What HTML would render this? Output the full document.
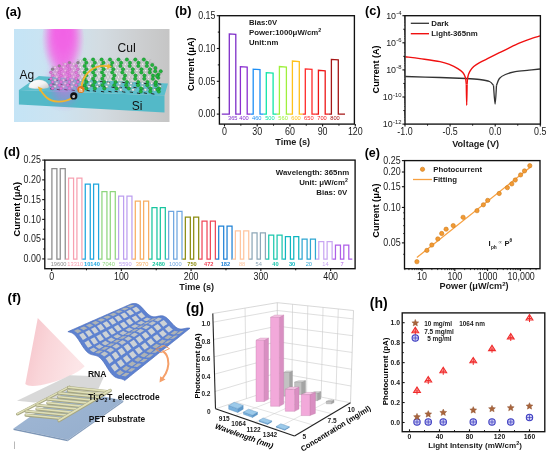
<!DOCTYPE html>
<html><head><meta charset="utf-8"><style>
html,body{margin:0;padding:0;background:#fff;}
body{width:550px;height:454px;overflow:hidden;}
svg{display:block;font-family:"Liberation Sans", sans-serif;filter:blur(0.35px);}
</style></head><body>
<svg width="550" height="454" viewBox="0 0 550 454">
<rect x="0" y="0" width="550" height="454" fill="#fff"/>
<text x="5.50" y="15.66" font-size="12.8" font-weight="bold" text-anchor="start" fill="#000" >(a)</text>
<text x="175.05" y="15.16" font-size="12.8" font-weight="bold" text-anchor="start" fill="#000" >(b)</text>
<text x="365.05" y="15.40" font-size="12.8" font-weight="bold" text-anchor="start" fill="#000" >(c)</text>
<text x="3.65" y="156.36" font-size="12.8" font-weight="bold" text-anchor="start" fill="#000" >(d)</text>
<text x="364.67" y="156.94" font-size="12.5" font-weight="bold" text-anchor="start" fill="#000" >(e)</text>
<text x="7.52" y="302.07" font-size="13.5" font-weight="bold" text-anchor="start" fill="#000" >(f)</text>
<text x="186.10" y="312.93" font-size="14" font-weight="bold" text-anchor="start" fill="#000" >(g)</text>
<text x="369.80" y="308.13" font-size="14" font-weight="bold" text-anchor="start" fill="#000" >(h)</text>
<line x1="216.80" y1="15.70" x2="219.40" y2="15.70" stroke="#111" stroke-width="1.1" />
<text transform="translate(215.50,19.00) scale(1,1.13)" font-size="8.9" font-weight="normal" text-anchor="end" fill="#1a1a1a" >0.15</text>
<line x1="216.80" y1="48.50" x2="219.40" y2="48.50" stroke="#111" stroke-width="1.1" />
<text transform="translate(215.50,51.80) scale(1,1.13)" font-size="8.9" font-weight="normal" text-anchor="end" fill="#1a1a1a" >0.10</text>
<line x1="216.80" y1="81.30" x2="219.40" y2="81.30" stroke="#111" stroke-width="1.1" />
<text transform="translate(215.50,84.60) scale(1,1.13)" font-size="8.9" font-weight="normal" text-anchor="end" fill="#1a1a1a" >0.05</text>
<line x1="216.80" y1="114.10" x2="219.40" y2="114.10" stroke="#111" stroke-width="1.1" />
<text transform="translate(215.50,117.40) scale(1,1.13)" font-size="8.9" font-weight="normal" text-anchor="end" fill="#1a1a1a" >0.00</text>
<line x1="217.80" y1="32.10" x2="219.40" y2="32.10" stroke="#111" stroke-width="1" />
<line x1="217.80" y1="64.90" x2="219.40" y2="64.90" stroke="#111" stroke-width="1" />
<line x1="217.80" y1="97.70" x2="219.40" y2="97.70" stroke="#111" stroke-width="1" />
<line x1="224.50" y1="124.10" x2="224.50" y2="126.50" stroke="#111" stroke-width="1.1" />
<text transform="translate(224.50,135.40) scale(1,1.13)" font-size="8.9" font-weight="normal" text-anchor="middle" fill="#1a1a1a" >0</text>
<line x1="257.20" y1="124.10" x2="257.20" y2="126.50" stroke="#111" stroke-width="1.1" />
<text transform="translate(257.20,135.40) scale(1,1.13)" font-size="8.9" font-weight="normal" text-anchor="middle" fill="#1a1a1a" >30</text>
<line x1="289.90" y1="124.10" x2="289.90" y2="126.50" stroke="#111" stroke-width="1.1" />
<text transform="translate(289.90,135.40) scale(1,1.13)" font-size="8.9" font-weight="normal" text-anchor="middle" fill="#1a1a1a" >60</text>
<line x1="322.60" y1="124.10" x2="322.60" y2="126.50" stroke="#111" stroke-width="1.1" />
<text transform="translate(322.60,135.40) scale(1,1.13)" font-size="8.9" font-weight="normal" text-anchor="middle" fill="#1a1a1a" >90</text>
<line x1="355.30" y1="124.10" x2="355.30" y2="126.50" stroke="#111" stroke-width="1.1" />
<text transform="translate(355.30,135.40) scale(1,1.13)" font-size="8.9" font-weight="normal" text-anchor="middle" fill="#1a1a1a" >120</text>
<line x1="240.85" y1="124.10" x2="240.85" y2="125.70" stroke="#111" stroke-width="1" />
<line x1="273.55" y1="124.10" x2="273.55" y2="125.70" stroke="#111" stroke-width="1" />
<line x1="306.25" y1="124.10" x2="306.25" y2="125.70" stroke="#111" stroke-width="1" />
<line x1="338.95" y1="124.10" x2="338.95" y2="125.70" stroke="#111" stroke-width="1" />
<text x="292.70" y="145.00" font-size="9.1" font-weight="bold" text-anchor="middle" fill="#1a1a1a" >Time (s)</text>
<text x="0.00" y="0.00" font-size="9.1" font-weight="bold" text-anchor="middle" fill="#000" transform="translate(194.1,64.3) rotate(-90)">Current (μA)</text>
<text x="249.00" y="25.30" font-size="7.7" font-weight="bold" text-anchor="start" fill="#1a1a1a" >Bias:0V</text>
<text x="249.00" y="35.40" font-size="7.85" font-weight="bold" text-anchor="start" fill="#1a1a1a" >Power:1000μW/cm<tspan font-size="5.3" dy="-3">2</tspan></text>
<text x="249.00" y="45.20" font-size="7.75" font-weight="bold" text-anchor="start" fill="#1a1a1a" >Unit:nm</text>
<polyline points="221.80,114.20 229.30,114.20 229.30,33.90 235.80,34.40 235.80,114.20 237.80,114.20" fill="none" stroke="#7f2fc8" stroke-width="1.3" />
<text x="232.75" y="120.20" font-size="5.7" font-weight="normal" text-anchor="middle" fill="#7f2fc8" >365</text>
<polyline points="237.80,114.20 240.40,114.20 240.40,66.70 247.20,67.20 247.20,114.20 250.60,114.20" fill="none" stroke="#8a2fd0" stroke-width="1.3" />
<text x="244.00" y="120.20" font-size="5.7" font-weight="normal" text-anchor="middle" fill="#8a2fd0" >400</text>
<polyline points="250.60,114.20 253.20,114.20 253.20,69.20 260.00,69.70 260.00,114.20 263.70,114.20" fill="none" stroke="#1e8ff5" stroke-width="1.3" />
<text x="256.80" y="120.20" font-size="5.7" font-weight="normal" text-anchor="middle" fill="#1e8ff5" >460</text>
<polyline points="263.70,114.20 266.30,114.20 266.30,72.70 273.10,73.20 273.10,114.20 276.80,114.20" fill="none" stroke="#10e6a8" stroke-width="1.3" />
<text x="269.90" y="120.20" font-size="5.7" font-weight="normal" text-anchor="middle" fill="#10e6a8" >500</text>
<polyline points="276.80,114.20 279.40,114.20 279.40,66.50 286.40,67.00 286.40,114.20 289.80,114.20" fill="none" stroke="#9ef03c" stroke-width="1.3" />
<text x="283.10" y="120.20" font-size="5.7" font-weight="normal" text-anchor="middle" fill="#9ef03c" >560</text>
<polyline points="289.80,114.20 292.40,114.20 292.40,61.00 299.30,61.50 299.30,114.20 302.70,114.20" fill="none" stroke="#ffc21a" stroke-width="1.3" />
<text x="296.05" y="120.20" font-size="5.7" font-weight="normal" text-anchor="middle" fill="#ffc21a" >600</text>
<polyline points="302.70,114.20 305.30,114.20 305.30,68.90 312.00,69.40 312.00,114.20 315.80,114.20" fill="none" stroke="#ff2a2a" stroke-width="1.3" />
<text x="308.85" y="120.20" font-size="5.7" font-weight="normal" text-anchor="middle" fill="#ff2a2a" >650</text>
<polyline points="315.80,114.20 318.40,114.20 318.40,70.30 325.20,70.80 325.20,114.20 328.80,114.20" fill="none" stroke="#ee1818" stroke-width="1.3" />
<text x="322.00" y="120.20" font-size="5.7" font-weight="normal" text-anchor="middle" fill="#ee1818" >700</text>
<polyline points="328.80,114.20 331.40,114.20 331.40,59.40 338.30,59.90 338.30,114.20 345.00,114.20" fill="none" stroke="#a51616" stroke-width="1.3" />
<text x="335.05" y="120.20" font-size="5.7" font-weight="normal" text-anchor="middle" fill="#a51616" >800</text>
<rect x="219.4" y="15.7" width="135.00" height="108.40" fill="none" stroke="#111" stroke-width="1.35"/>
<line x1="402.40" y1="15.70" x2="405.00" y2="15.70" stroke="#111" stroke-width="1.1" />
<text x="396.00" y="18.90" font-size="8.9" font-weight="normal" text-anchor="end" fill="#1a1a1a" >10</text>
<text x="401.60" y="15.20" font-size="5.9" font-weight="normal" text-anchor="end" fill="#1a1a1a" >-4</text>
<line x1="402.40" y1="42.80" x2="405.00" y2="42.80" stroke="#111" stroke-width="1.1" />
<text x="396.00" y="46.00" font-size="8.9" font-weight="normal" text-anchor="end" fill="#1a1a1a" >10</text>
<text x="401.60" y="42.30" font-size="5.9" font-weight="normal" text-anchor="end" fill="#1a1a1a" >-6</text>
<line x1="402.40" y1="69.90" x2="405.00" y2="69.90" stroke="#111" stroke-width="1.1" />
<text x="396.00" y="73.10" font-size="8.9" font-weight="normal" text-anchor="end" fill="#1a1a1a" >10</text>
<text x="401.60" y="69.40" font-size="5.9" font-weight="normal" text-anchor="end" fill="#1a1a1a" >-8</text>
<line x1="402.40" y1="97.00" x2="405.00" y2="97.00" stroke="#111" stroke-width="1.1" />
<text x="392.60" y="100.20" font-size="8.9" font-weight="normal" text-anchor="end" fill="#1a1a1a" >10</text>
<text x="401.60" y="96.50" font-size="5.9" font-weight="normal" text-anchor="end" fill="#1a1a1a" >-10</text>
<line x1="402.40" y1="124.10" x2="405.00" y2="124.10" stroke="#111" stroke-width="1.1" />
<text x="392.60" y="127.30" font-size="8.9" font-weight="normal" text-anchor="end" fill="#1a1a1a" >10</text>
<text x="401.60" y="123.60" font-size="5.9" font-weight="normal" text-anchor="end" fill="#1a1a1a" >-12</text>
<line x1="404.00" y1="120.02" x2="405.00" y2="120.02" stroke="#333" stroke-width="0.6" />
<line x1="404.00" y1="117.64" x2="405.00" y2="117.64" stroke="#333" stroke-width="0.6" />
<line x1="404.00" y1="115.94" x2="405.00" y2="115.94" stroke="#333" stroke-width="0.6" />
<line x1="404.00" y1="114.63" x2="405.00" y2="114.63" stroke="#333" stroke-width="0.6" />
<line x1="404.00" y1="113.56" x2="405.00" y2="113.56" stroke="#333" stroke-width="0.6" />
<line x1="404.00" y1="112.65" x2="405.00" y2="112.65" stroke="#333" stroke-width="0.6" />
<line x1="404.00" y1="111.86" x2="405.00" y2="111.86" stroke="#333" stroke-width="0.6" />
<line x1="404.00" y1="111.17" x2="405.00" y2="111.17" stroke="#333" stroke-width="0.6" />
<line x1="404.00" y1="106.47" x2="405.00" y2="106.47" stroke="#333" stroke-width="0.6" />
<line x1="404.00" y1="104.09" x2="405.00" y2="104.09" stroke="#333" stroke-width="0.6" />
<line x1="404.00" y1="102.39" x2="405.00" y2="102.39" stroke="#333" stroke-width="0.6" />
<line x1="404.00" y1="101.08" x2="405.00" y2="101.08" stroke="#333" stroke-width="0.6" />
<line x1="404.00" y1="100.01" x2="405.00" y2="100.01" stroke="#333" stroke-width="0.6" />
<line x1="404.00" y1="99.10" x2="405.00" y2="99.10" stroke="#333" stroke-width="0.6" />
<line x1="404.00" y1="98.31" x2="405.00" y2="98.31" stroke="#333" stroke-width="0.6" />
<line x1="404.00" y1="97.62" x2="405.00" y2="97.62" stroke="#333" stroke-width="0.6" />
<line x1="404.00" y1="92.92" x2="405.00" y2="92.92" stroke="#333" stroke-width="0.6" />
<line x1="404.00" y1="90.54" x2="405.00" y2="90.54" stroke="#333" stroke-width="0.6" />
<line x1="404.00" y1="88.84" x2="405.00" y2="88.84" stroke="#333" stroke-width="0.6" />
<line x1="404.00" y1="87.53" x2="405.00" y2="87.53" stroke="#333" stroke-width="0.6" />
<line x1="404.00" y1="86.46" x2="405.00" y2="86.46" stroke="#333" stroke-width="0.6" />
<line x1="404.00" y1="85.55" x2="405.00" y2="85.55" stroke="#333" stroke-width="0.6" />
<line x1="404.00" y1="84.76" x2="405.00" y2="84.76" stroke="#333" stroke-width="0.6" />
<line x1="404.00" y1="84.07" x2="405.00" y2="84.07" stroke="#333" stroke-width="0.6" />
<line x1="404.00" y1="79.37" x2="405.00" y2="79.37" stroke="#333" stroke-width="0.6" />
<line x1="404.00" y1="76.99" x2="405.00" y2="76.99" stroke="#333" stroke-width="0.6" />
<line x1="404.00" y1="75.29" x2="405.00" y2="75.29" stroke="#333" stroke-width="0.6" />
<line x1="404.00" y1="73.98" x2="405.00" y2="73.98" stroke="#333" stroke-width="0.6" />
<line x1="404.00" y1="72.91" x2="405.00" y2="72.91" stroke="#333" stroke-width="0.6" />
<line x1="404.00" y1="72.00" x2="405.00" y2="72.00" stroke="#333" stroke-width="0.6" />
<line x1="404.00" y1="71.21" x2="405.00" y2="71.21" stroke="#333" stroke-width="0.6" />
<line x1="404.00" y1="70.52" x2="405.00" y2="70.52" stroke="#333" stroke-width="0.6" />
<line x1="404.00" y1="65.82" x2="405.00" y2="65.82" stroke="#333" stroke-width="0.6" />
<line x1="404.00" y1="63.44" x2="405.00" y2="63.44" stroke="#333" stroke-width="0.6" />
<line x1="404.00" y1="61.74" x2="405.00" y2="61.74" stroke="#333" stroke-width="0.6" />
<line x1="404.00" y1="60.43" x2="405.00" y2="60.43" stroke="#333" stroke-width="0.6" />
<line x1="404.00" y1="59.36" x2="405.00" y2="59.36" stroke="#333" stroke-width="0.6" />
<line x1="404.00" y1="58.45" x2="405.00" y2="58.45" stroke="#333" stroke-width="0.6" />
<line x1="404.00" y1="57.66" x2="405.00" y2="57.66" stroke="#333" stroke-width="0.6" />
<line x1="404.00" y1="56.97" x2="405.00" y2="56.97" stroke="#333" stroke-width="0.6" />
<line x1="404.00" y1="52.27" x2="405.00" y2="52.27" stroke="#333" stroke-width="0.6" />
<line x1="404.00" y1="49.89" x2="405.00" y2="49.89" stroke="#333" stroke-width="0.6" />
<line x1="404.00" y1="48.19" x2="405.00" y2="48.19" stroke="#333" stroke-width="0.6" />
<line x1="404.00" y1="46.88" x2="405.00" y2="46.88" stroke="#333" stroke-width="0.6" />
<line x1="404.00" y1="45.81" x2="405.00" y2="45.81" stroke="#333" stroke-width="0.6" />
<line x1="404.00" y1="44.90" x2="405.00" y2="44.90" stroke="#333" stroke-width="0.6" />
<line x1="404.00" y1="44.11" x2="405.00" y2="44.11" stroke="#333" stroke-width="0.6" />
<line x1="404.00" y1="43.42" x2="405.00" y2="43.42" stroke="#333" stroke-width="0.6" />
<line x1="404.00" y1="38.72" x2="405.00" y2="38.72" stroke="#333" stroke-width="0.6" />
<line x1="404.00" y1="36.34" x2="405.00" y2="36.34" stroke="#333" stroke-width="0.6" />
<line x1="404.00" y1="34.64" x2="405.00" y2="34.64" stroke="#333" stroke-width="0.6" />
<line x1="404.00" y1="33.33" x2="405.00" y2="33.33" stroke="#333" stroke-width="0.6" />
<line x1="404.00" y1="32.26" x2="405.00" y2="32.26" stroke="#333" stroke-width="0.6" />
<line x1="404.00" y1="31.35" x2="405.00" y2="31.35" stroke="#333" stroke-width="0.6" />
<line x1="404.00" y1="30.56" x2="405.00" y2="30.56" stroke="#333" stroke-width="0.6" />
<line x1="404.00" y1="29.87" x2="405.00" y2="29.87" stroke="#333" stroke-width="0.6" />
<line x1="404.00" y1="25.17" x2="405.00" y2="25.17" stroke="#333" stroke-width="0.6" />
<line x1="404.00" y1="22.79" x2="405.00" y2="22.79" stroke="#333" stroke-width="0.6" />
<line x1="404.00" y1="21.09" x2="405.00" y2="21.09" stroke="#333" stroke-width="0.6" />
<line x1="404.00" y1="19.78" x2="405.00" y2="19.78" stroke="#333" stroke-width="0.6" />
<line x1="404.00" y1="18.71" x2="405.00" y2="18.71" stroke="#333" stroke-width="0.6" />
<line x1="404.00" y1="17.80" x2="405.00" y2="17.80" stroke="#333" stroke-width="0.6" />
<line x1="404.00" y1="17.01" x2="405.00" y2="17.01" stroke="#333" stroke-width="0.6" />
<line x1="404.00" y1="16.32" x2="405.00" y2="16.32" stroke="#333" stroke-width="0.6" />
<line x1="403.30" y1="29.25" x2="405.00" y2="29.25" stroke="#111" stroke-width="1" />
<line x1="403.30" y1="56.35" x2="405.00" y2="56.35" stroke="#111" stroke-width="1" />
<line x1="403.30" y1="83.45" x2="405.00" y2="83.45" stroke="#111" stroke-width="1" />
<line x1="403.30" y1="110.55" x2="405.00" y2="110.55" stroke="#111" stroke-width="1" />
<line x1="405.00" y1="124.10" x2="405.00" y2="126.50" stroke="#111" stroke-width="1.1" />
<text transform="translate(405.00,135.40) scale(1,1.13)" font-size="8.9" font-weight="normal" text-anchor="middle" fill="#1a1a1a" >-1.0</text>
<line x1="450.10" y1="124.10" x2="450.10" y2="126.50" stroke="#111" stroke-width="1.1" />
<text transform="translate(450.10,135.40) scale(1,1.13)" font-size="8.9" font-weight="normal" text-anchor="middle" fill="#1a1a1a" >-0.5</text>
<line x1="495.20" y1="124.10" x2="495.20" y2="126.50" stroke="#111" stroke-width="1.1" />
<text transform="translate(495.20,135.40) scale(1,1.13)" font-size="8.9" font-weight="normal" text-anchor="middle" fill="#1a1a1a" >0.0</text>
<line x1="540.30" y1="124.10" x2="540.30" y2="126.50" stroke="#111" stroke-width="1.1" />
<text transform="translate(540.30,135.40) scale(1,1.13)" font-size="8.9" font-weight="normal" text-anchor="middle" fill="#1a1a1a" >0.5</text>
<line x1="427.55" y1="124.10" x2="427.55" y2="125.70" stroke="#111" stroke-width="1" />
<line x1="472.65" y1="124.10" x2="472.65" y2="125.70" stroke="#111" stroke-width="1" />
<line x1="517.75" y1="124.10" x2="517.75" y2="125.70" stroke="#111" stroke-width="1" />
<text x="475.60" y="147.40" font-size="9.1" font-weight="bold" text-anchor="middle" fill="#1a1a1a" >Voltage (V)</text>
<text x="0.00" y="0.00" font-size="9.1" font-weight="bold" text-anchor="middle" fill="#000" transform="translate(379.3,69.4) rotate(-90)">Current (A)</text>
<line x1="410.80" y1="23.30" x2="429.00" y2="23.30" stroke="#333" stroke-width="1.3" />
<text x="431.20" y="26.20" font-size="7.9" font-weight="bold" text-anchor="start" fill="#1a1a1a" >Dark</text>
<line x1="410.80" y1="33.70" x2="429.00" y2="33.70" stroke="#f01010" stroke-width="1.4" />
<text x="431.20" y="36.00" font-size="7.85" font-weight="bold" text-anchor="start" fill="#1a1a1a" >Light-365nm</text>
<path d="M405.50,76.50 C411.25,76.67 429.95,77.17 440.00,77.50 C450.05,77.83 459.20,78.17 465.80,78.50 C472.40,78.83 475.65,79.00 479.60,79.50 C483.55,80.00 487.18,80.52 489.50,81.50 C491.82,82.48 492.83,84.75 493.50,85.40" fill="none" stroke="#333" stroke-width="1.3" />
<path d="M493.50,85.40 C493.77,88.53 494.60,104.20 495.10,104.20 C495.60,104.20 496.27,88.53 496.50,85.40" fill="none" stroke="#333" stroke-width="1.3" />
<path d="M496.50,85.40 C496.98,84.25 497.92,80.32 499.40,78.50 C500.88,76.68 502.75,75.65 505.40,74.50 C508.05,73.35 511.35,72.32 515.30,71.60 C519.25,70.88 524.98,70.63 529.10,70.20 C533.22,69.77 538.18,69.20 540.00,69.00" fill="none" stroke="#333" stroke-width="1.3" />
<path d="M405.50,56.70 C407.92,57.02 414.25,57.78 420.00,58.60 C425.75,59.42 435.02,60.60 440.00,61.60 C444.98,62.60 446.93,63.43 449.90,64.60 C452.87,65.77 455.65,67.28 457.80,68.60 C459.95,69.92 461.53,71.02 462.80,72.50 C464.07,73.98 464.82,75.52 465.40,77.50 C465.98,79.48 466.15,83.25 466.30,84.40" fill="none" stroke="#f01010" stroke-width="1.4" />
<path d="M466.30,84.40 C466.37,87.87 466.57,105.20 466.70,105.20 C466.83,105.20 467.03,87.87 467.10,84.40" fill="none" stroke="#f01010" stroke-width="1.4" />
<path d="M467.10,84.40 C467.20,83.25 467.27,79.63 467.70,77.50 C468.13,75.37 468.70,73.42 469.70,71.60 C470.70,69.78 472.05,68.10 473.70,66.60 C475.35,65.10 476.97,64.08 479.60,62.60 C482.23,61.12 486.20,59.35 489.50,57.70 C492.80,56.05 496.10,54.35 499.40,52.70 C502.70,51.05 506.00,49.38 509.30,47.80 C512.60,46.22 515.90,44.62 519.20,43.20 C522.50,41.78 525.63,40.52 529.10,39.30 C532.57,38.08 538.18,36.47 540.00,35.90" fill="none" stroke="#f01010" stroke-width="1.4" />
<rect x="405.0" y="15.7" width="135.40" height="108.40" fill="none" stroke="#111" stroke-width="1.35"/>
<line x1="42.20" y1="160.10" x2="44.80" y2="160.10" stroke="#111" stroke-width="1.1" />
<text transform="translate(40.90,163.40) scale(1,1.13)" font-size="8.9" font-weight="normal" text-anchor="end" fill="#1a1a1a" >0.25</text>
<line x1="42.20" y1="179.86" x2="44.80" y2="179.86" stroke="#111" stroke-width="1.1" />
<text transform="translate(40.90,183.16) scale(1,1.13)" font-size="8.9" font-weight="normal" text-anchor="end" fill="#1a1a1a" >0.20</text>
<line x1="42.20" y1="199.62" x2="44.80" y2="199.62" stroke="#111" stroke-width="1.1" />
<text transform="translate(40.90,202.92) scale(1,1.13)" font-size="8.9" font-weight="normal" text-anchor="end" fill="#1a1a1a" >0.15</text>
<line x1="42.20" y1="219.38" x2="44.80" y2="219.38" stroke="#111" stroke-width="1.1" />
<text transform="translate(40.90,222.68) scale(1,1.13)" font-size="8.9" font-weight="normal" text-anchor="end" fill="#1a1a1a" >0.10</text>
<line x1="42.20" y1="239.14" x2="44.80" y2="239.14" stroke="#111" stroke-width="1.1" />
<text transform="translate(40.90,242.44) scale(1,1.13)" font-size="8.9" font-weight="normal" text-anchor="end" fill="#1a1a1a" >0.05</text>
<line x1="42.20" y1="258.90" x2="44.80" y2="258.90" stroke="#111" stroke-width="1.1" />
<text transform="translate(40.90,262.20) scale(1,1.13)" font-size="8.9" font-weight="normal" text-anchor="end" fill="#1a1a1a" >0.00</text>
<line x1="43.20" y1="169.98" x2="44.80" y2="169.98" stroke="#111" stroke-width="1" />
<line x1="43.20" y1="189.74" x2="44.80" y2="189.74" stroke="#111" stroke-width="1" />
<line x1="43.20" y1="209.50" x2="44.80" y2="209.50" stroke="#111" stroke-width="1" />
<line x1="43.20" y1="229.26" x2="44.80" y2="229.26" stroke="#111" stroke-width="1" />
<line x1="43.20" y1="249.02" x2="44.80" y2="249.02" stroke="#111" stroke-width="1" />
<line x1="51.60" y1="268.70" x2="51.60" y2="271.10" stroke="#111" stroke-width="1.1" />
<text transform="translate(51.60,279.80) scale(1,1.13)" font-size="8.9" font-weight="normal" text-anchor="middle" fill="#1a1a1a" >0</text>
<line x1="121.35" y1="268.70" x2="121.35" y2="271.10" stroke="#111" stroke-width="1.1" />
<text transform="translate(121.35,279.80) scale(1,1.13)" font-size="8.9" font-weight="normal" text-anchor="middle" fill="#1a1a1a" >100</text>
<line x1="191.10" y1="268.70" x2="191.10" y2="271.10" stroke="#111" stroke-width="1.1" />
<text transform="translate(191.10,279.80) scale(1,1.13)" font-size="8.9" font-weight="normal" text-anchor="middle" fill="#1a1a1a" >200</text>
<line x1="260.85" y1="268.70" x2="260.85" y2="271.10" stroke="#111" stroke-width="1.1" />
<text transform="translate(260.85,279.80) scale(1,1.13)" font-size="8.9" font-weight="normal" text-anchor="middle" fill="#1a1a1a" >300</text>
<line x1="330.60" y1="268.70" x2="330.60" y2="271.10" stroke="#111" stroke-width="1.1" />
<text transform="translate(330.60,279.80) scale(1,1.13)" font-size="8.9" font-weight="normal" text-anchor="middle" fill="#1a1a1a" >400</text>
<line x1="86.47" y1="268.70" x2="86.47" y2="270.30" stroke="#111" stroke-width="1" />
<line x1="156.22" y1="268.70" x2="156.22" y2="270.30" stroke="#111" stroke-width="1" />
<line x1="225.97" y1="268.70" x2="225.97" y2="270.30" stroke="#111" stroke-width="1" />
<line x1="295.73" y1="268.70" x2="295.73" y2="270.30" stroke="#111" stroke-width="1" />
<text x="196.70" y="289.60" font-size="9.1" font-weight="bold" text-anchor="middle" fill="#1a1a1a" >Time (s)</text>
<text x="0.00" y="0.00" font-size="9.3" font-weight="bold" text-anchor="middle" fill="#000" transform="translate(20.0,209.2) rotate(-90)">Current (μA)</text>
<text x="349.20" y="175.20" font-size="7.85" font-weight="bold" text-anchor="end" fill="#1a1a1a" >Wavelength: 365nm</text>
<text x="347.80" y="185.30" font-size="7.85" font-weight="bold" text-anchor="end" fill="#1a1a1a" >Unit: μW/cm<tspan font-size="5.2" dy="-3">2</tspan></text>
<text x="347.30" y="194.60" font-size="7.85" font-weight="bold" text-anchor="end" fill="#1a1a1a" >Bias: 0V</text>
<polyline points="47.50,259.00 51.90,259.00 51.90,168.60 56.90,168.60 56.90,259.00 60.24,259.00 60.24,168.60 65.24,168.60 65.24,259.00 65.68,259.00" fill="none" stroke="#8c8c8c" stroke-width="1.25" />
<text x="58.60" y="265.70" font-size="5.7" font-weight="normal" text-anchor="middle" fill="#8c8c8c" >19600</text>
<polyline points="65.68,259.00 68.58,259.00 68.58,178.20 73.58,178.20 73.58,259.00 76.92,259.00 76.92,178.20 81.92,178.20 81.92,259.00 82.36,259.00" fill="none" stroke="#f7a1b1" stroke-width="1.25" />
<text x="75.28" y="265.70" font-size="5.7" font-weight="normal" text-anchor="middle" fill="#f7a1b1" >13310</text>
<polyline points="82.36,259.00 85.26,259.00 85.26,184.20 90.26,184.20 90.26,259.00 93.60,259.00 93.60,184.20 98.60,184.20 98.60,259.00 99.04,259.00" fill="none" stroke="#1ea6de" stroke-width="1.25" />
<text x="91.96" y="265.70" font-size="5.7" font-weight="bold" text-anchor="middle" fill="#1ea6de" >10140</text>
<polyline points="99.04,259.00 101.94,259.00 101.94,191.50 106.94,191.50 106.94,259.00 110.28,259.00 110.28,191.50 115.28,191.50 115.28,259.00 115.72,259.00" fill="none" stroke="#8fd67e" stroke-width="1.25" />
<text x="108.64" y="265.70" font-size="5.7" font-weight="normal" text-anchor="middle" fill="#8fd67e" >7040</text>
<polyline points="115.72,259.00 118.62,259.00 118.62,196.10 123.62,196.10 123.62,259.00 126.96,259.00 126.96,196.10 131.96,196.10 131.96,259.00 132.40,259.00" fill="none" stroke="#bd9ff0" stroke-width="1.25" />
<text x="125.32" y="265.70" font-size="5.7" font-weight="normal" text-anchor="middle" fill="#bd9ff0" >5590</text>
<polyline points="132.40,259.00 135.30,259.00 135.30,201.00 140.30,201.00 140.30,259.00 143.64,259.00 143.64,201.00 148.64,201.00 148.64,259.00 149.08,259.00" fill="none" stroke="#f8ae62" stroke-width="1.25" />
<text x="142.00" y="265.70" font-size="5.7" font-weight="normal" text-anchor="middle" fill="#f8ae62" >3970</text>
<polyline points="149.08,259.00 151.98,259.00 151.98,207.70 156.98,207.70 156.98,259.00 160.32,259.00 160.32,207.70 165.32,207.70 165.32,259.00 165.76,259.00" fill="none" stroke="#19c59f" stroke-width="1.25" />
<text x="158.68" y="265.70" font-size="5.7" font-weight="bold" text-anchor="middle" fill="#19c59f" >2480</text>
<polyline points="165.76,259.00 168.66,259.00 168.66,211.30 173.66,211.30 173.66,259.00 177.00,259.00 177.00,211.30 182.00,211.30 182.00,259.00 182.44,259.00" fill="none" stroke="#6fa6e0" stroke-width="1.25" />
<text x="175.36" y="265.70" font-size="5.7" font-weight="normal" text-anchor="middle" fill="#6fa6e0" >1000</text>
<polyline points="182.44,259.00 185.34,259.00 185.34,217.10 190.34,217.10 190.34,259.00 193.68,259.00 193.68,217.10 198.68,217.10 198.68,259.00 199.12,259.00" fill="none" stroke="#8d8d12" stroke-width="1.25" />
<text x="192.04" y="265.70" font-size="5.7" font-weight="bold" text-anchor="middle" fill="#8d8d12" >750</text>
<polyline points="199.12,259.00 202.02,259.00 202.02,221.00 207.02,221.00 207.02,259.00 210.36,259.00 210.36,221.00 215.36,221.00 215.36,259.00 215.80,259.00" fill="none" stroke="#f0485a" stroke-width="1.25" />
<text x="208.72" y="265.70" font-size="5.7" font-weight="bold" text-anchor="middle" fill="#f0485a" >472</text>
<polyline points="215.80,259.00 218.70,259.00 218.70,226.20 223.70,226.20 223.70,259.00 227.04,259.00 227.04,226.20 232.04,226.20 232.04,259.00 232.48,259.00" fill="none" stroke="#1f82d6" stroke-width="1.25" />
<text x="225.40" y="265.70" font-size="5.7" font-weight="bold" text-anchor="middle" fill="#1f82d6" >182</text>
<polyline points="232.48,259.00 235.38,259.00 235.38,230.80 240.38,230.80 240.38,259.00 243.72,259.00 243.72,230.80 248.72,230.80 248.72,259.00 249.16,259.00" fill="none" stroke="#ffc6a0" stroke-width="1.25" />
<text x="242.08" y="265.70" font-size="5.7" font-weight="normal" text-anchor="middle" fill="#ffc6a0" >88</text>
<polyline points="249.16,259.00 252.06,259.00 252.06,232.80 257.06,232.80 257.06,259.00 260.40,259.00 260.40,232.80 265.40,232.80 265.40,259.00 265.84,259.00" fill="none" stroke="#8ea8b8" stroke-width="1.25" />
<text x="258.76" y="265.70" font-size="5.7" font-weight="normal" text-anchor="middle" fill="#8ea8b8" >54</text>
<polyline points="265.84,259.00 268.74,259.00 268.74,235.10 273.74,235.10 273.74,259.00 277.08,259.00 277.08,235.10 282.08,235.10 282.08,259.00 282.52,259.00" fill="none" stroke="#1cc7ae" stroke-width="1.25" />
<text x="275.44" y="265.70" font-size="5.7" font-weight="bold" text-anchor="middle" fill="#1cc7ae" >40</text>
<polyline points="282.52,259.00 285.42,259.00 285.42,236.70 290.42,236.70 290.42,259.00 293.76,259.00 293.76,236.70 298.76,236.70 298.76,259.00 299.20,259.00" fill="none" stroke="#0fb6c0" stroke-width="1.25" />
<text x="292.12" y="265.70" font-size="5.7" font-weight="bold" text-anchor="middle" fill="#0fb6c0" >30</text>
<polyline points="299.20,259.00 302.10,259.00 302.10,239.00 307.10,239.00 307.10,259.00 310.44,259.00 310.44,239.00 315.44,239.00 315.44,259.00 315.88,259.00" fill="none" stroke="#2ea6d2" stroke-width="1.25" />
<text x="308.80" y="265.70" font-size="5.7" font-weight="normal" text-anchor="middle" fill="#2ea6d2" >20</text>
<polyline points="315.88,259.00 318.78,259.00 318.78,241.60 323.78,241.60 323.78,259.00 327.12,259.00 327.12,241.60 332.12,241.60 332.12,259.00 332.56,259.00" fill="none" stroke="#c9a7f2" stroke-width="1.25" />
<text x="325.48" y="265.70" font-size="5.7" font-weight="normal" text-anchor="middle" fill="#c9a7f2" >14</text>
<polyline points="332.56,259.00 335.46,259.00 335.46,245.00 340.46,245.00 340.46,259.00 343.80,259.00 343.80,245.00 348.80,245.00 348.80,259.00 352.30,259.00" fill="none" stroke="#ae5ee8" stroke-width="1.25" />
<text x="342.16" y="265.70" font-size="5.7" font-weight="normal" text-anchor="middle" fill="#ae5ee8" >7</text>
<rect x="44.8" y="160.1" width="310.30" height="108.60" fill="none" stroke="#111" stroke-width="1.35"/>
<line x1="401.90" y1="160.60" x2="404.50" y2="160.60" stroke="#111" stroke-width="1.1" />
<text transform="translate(400.60,163.90) scale(1,1.13)" font-size="8.9" font-weight="normal" text-anchor="end" fill="#1a1a1a" >0.25</text>
<line x1="401.90" y1="172.01" x2="404.50" y2="172.01" stroke="#111" stroke-width="1.1" />
<text transform="translate(400.60,175.31) scale(1,1.13)" font-size="8.9" font-weight="normal" text-anchor="end" fill="#1a1a1a" >0.20</text>
<line x1="401.90" y1="186.71" x2="404.50" y2="186.71" stroke="#111" stroke-width="1.1" />
<text transform="translate(400.60,190.01) scale(1,1.13)" font-size="8.9" font-weight="normal" text-anchor="end" fill="#1a1a1a" >0.15</text>
<line x1="401.90" y1="207.44" x2="404.50" y2="207.44" stroke="#111" stroke-width="1.1" />
<text transform="translate(400.60,210.74) scale(1,1.13)" font-size="8.9" font-weight="normal" text-anchor="end" fill="#1a1a1a" >0.10</text>
<line x1="401.90" y1="242.87" x2="404.50" y2="242.87" stroke="#111" stroke-width="1.1" />
<text transform="translate(400.60,246.17) scale(1,1.13)" font-size="8.9" font-weight="normal" text-anchor="end" fill="#1a1a1a" >0.05</text>
<line x1="403.10" y1="212.82" x2="404.50" y2="212.82" stroke="#111" stroke-width="0.8" />
<line x1="403.10" y1="218.84" x2="404.50" y2="218.84" stroke="#111" stroke-width="0.8" />
<line x1="403.10" y1="225.67" x2="404.50" y2="225.67" stroke="#111" stroke-width="0.8" />
<line x1="403.10" y1="233.55" x2="404.50" y2="233.55" stroke="#111" stroke-width="0.8" />
<line x1="403.10" y1="254.28" x2="404.50" y2="254.28" stroke="#111" stroke-width="0.8" />
<line x1="422.00" y1="268.70" x2="422.00" y2="271.10" stroke="#111" stroke-width="1.1" />
<text transform="translate(422.00,279.90) scale(1,1.13)" font-size="8.9" font-weight="normal" text-anchor="middle" fill="#1a1a1a" >10</text>
<line x1="454.80" y1="268.70" x2="454.80" y2="271.10" stroke="#111" stroke-width="1.1" />
<text transform="translate(454.80,279.90) scale(1,1.13)" font-size="8.9" font-weight="normal" text-anchor="middle" fill="#1a1a1a" >100</text>
<line x1="487.60" y1="268.70" x2="487.60" y2="271.10" stroke="#111" stroke-width="1.1" />
<text transform="translate(487.60,279.90) scale(1,1.13)" font-size="8.9" font-weight="normal" text-anchor="middle" fill="#1a1a1a" >1000</text>
<line x1="520.40" y1="268.70" x2="520.40" y2="271.10" stroke="#111" stroke-width="1.1" />
<text transform="translate(521.20,279.90) scale(1,1.13)" font-size="8.9" font-weight="normal" text-anchor="middle" fill="#1a1a1a" >10,000</text>
<line x1="404.85" y1="268.70" x2="404.85" y2="270.10" stroke="#111" stroke-width="0.8" />
<line x1="408.95" y1="268.70" x2="408.95" y2="270.10" stroke="#111" stroke-width="0.8" />
<line x1="412.13" y1="268.70" x2="412.13" y2="270.10" stroke="#111" stroke-width="0.8" />
<line x1="414.72" y1="268.70" x2="414.72" y2="270.10" stroke="#111" stroke-width="0.8" />
<line x1="416.92" y1="268.70" x2="416.92" y2="270.10" stroke="#111" stroke-width="0.8" />
<line x1="418.82" y1="268.70" x2="418.82" y2="270.10" stroke="#111" stroke-width="0.8" />
<line x1="420.50" y1="268.70" x2="420.50" y2="270.10" stroke="#111" stroke-width="0.8" />
<line x1="431.87" y1="268.70" x2="431.87" y2="270.10" stroke="#111" stroke-width="0.8" />
<line x1="437.65" y1="268.70" x2="437.65" y2="270.10" stroke="#111" stroke-width="0.8" />
<line x1="441.75" y1="268.70" x2="441.75" y2="270.10" stroke="#111" stroke-width="0.8" />
<line x1="444.93" y1="268.70" x2="444.93" y2="270.10" stroke="#111" stroke-width="0.8" />
<line x1="447.52" y1="268.70" x2="447.52" y2="270.10" stroke="#111" stroke-width="0.8" />
<line x1="449.72" y1="268.70" x2="449.72" y2="270.10" stroke="#111" stroke-width="0.8" />
<line x1="451.62" y1="268.70" x2="451.62" y2="270.10" stroke="#111" stroke-width="0.8" />
<line x1="453.30" y1="268.70" x2="453.30" y2="270.10" stroke="#111" stroke-width="0.8" />
<line x1="464.67" y1="268.70" x2="464.67" y2="270.10" stroke="#111" stroke-width="0.8" />
<line x1="470.45" y1="268.70" x2="470.45" y2="270.10" stroke="#111" stroke-width="0.8" />
<line x1="474.55" y1="268.70" x2="474.55" y2="270.10" stroke="#111" stroke-width="0.8" />
<line x1="477.73" y1="268.70" x2="477.73" y2="270.10" stroke="#111" stroke-width="0.8" />
<line x1="480.32" y1="268.70" x2="480.32" y2="270.10" stroke="#111" stroke-width="0.8" />
<line x1="482.52" y1="268.70" x2="482.52" y2="270.10" stroke="#111" stroke-width="0.8" />
<line x1="484.42" y1="268.70" x2="484.42" y2="270.10" stroke="#111" stroke-width="0.8" />
<line x1="486.10" y1="268.70" x2="486.10" y2="270.10" stroke="#111" stroke-width="0.8" />
<line x1="497.47" y1="268.70" x2="497.47" y2="270.10" stroke="#111" stroke-width="0.8" />
<line x1="503.25" y1="268.70" x2="503.25" y2="270.10" stroke="#111" stroke-width="0.8" />
<line x1="507.35" y1="268.70" x2="507.35" y2="270.10" stroke="#111" stroke-width="0.8" />
<line x1="510.53" y1="268.70" x2="510.53" y2="270.10" stroke="#111" stroke-width="0.8" />
<line x1="513.12" y1="268.70" x2="513.12" y2="270.10" stroke="#111" stroke-width="0.8" />
<line x1="515.32" y1="268.70" x2="515.32" y2="270.10" stroke="#111" stroke-width="0.8" />
<line x1="517.22" y1="268.70" x2="517.22" y2="270.10" stroke="#111" stroke-width="0.8" />
<line x1="518.90" y1="268.70" x2="518.90" y2="270.10" stroke="#111" stroke-width="0.8" />
<line x1="530.27" y1="268.70" x2="530.27" y2="270.10" stroke="#111" stroke-width="0.8" />
<line x1="536.05" y1="268.70" x2="536.05" y2="270.10" stroke="#111" stroke-width="0.8" />
<text x="474.00" y="289.40" font-size="9.1" font-weight="bold" text-anchor="middle" fill="#1a1a1a" >Power (μW/cm<tspan font-size="6" dy="-3">2</tspan><tspan dy="3">)</tspan></text>
<text x="0.00" y="0.00" font-size="9.2" font-weight="bold" text-anchor="middle" fill="#000" transform="translate(379.3,210.6) rotate(-90)">Current (μA)</text>
<line x1="416.90" y1="257.40" x2="531.20" y2="166.50" stroke="#f7a040" stroke-width="1.3" />
<circle cx="416.9" cy="261.7" r="2.15" fill="#f29a34" stroke="#cf7a18" stroke-width="0.6"/>
<circle cx="426.9" cy="250.4" r="2.15" fill="#f29a34" stroke="#cf7a18" stroke-width="0.6"/>
<circle cx="431.8" cy="245" r="2.15" fill="#f29a34" stroke="#cf7a18" stroke-width="0.6"/>
<circle cx="437.8" cy="238.9" r="2.15" fill="#f29a34" stroke="#cf7a18" stroke-width="0.6"/>
<circle cx="441.7" cy="233.5" r="2.15" fill="#f29a34" stroke="#cf7a18" stroke-width="0.6"/>
<circle cx="446.1" cy="229.2" r="2.15" fill="#f29a34" stroke="#cf7a18" stroke-width="0.6"/>
<circle cx="453.2" cy="225.6" r="2.15" fill="#f29a34" stroke="#cf7a18" stroke-width="0.6"/>
<circle cx="463.1" cy="217.3" r="2.15" fill="#f29a34" stroke="#cf7a18" stroke-width="0.6"/>
<circle cx="477" cy="210.7" r="2.15" fill="#f29a34" stroke="#cf7a18" stroke-width="0.6"/>
<circle cx="483.4" cy="204.8" r="2.15" fill="#f29a34" stroke="#cf7a18" stroke-width="0.6"/>
<circle cx="487.7" cy="200.4" r="2.15" fill="#f29a34" stroke="#cf7a18" stroke-width="0.6"/>
<circle cx="499.2" cy="193.5" r="2.15" fill="#f29a34" stroke="#cf7a18" stroke-width="0.6"/>
<circle cx="507.4" cy="187.7" r="2.15" fill="#f29a34" stroke="#cf7a18" stroke-width="0.6"/>
<circle cx="511.8" cy="183.9" r="2.15" fill="#f29a34" stroke="#cf7a18" stroke-width="0.6"/>
<circle cx="515.3" cy="180" r="2.15" fill="#f29a34" stroke="#cf7a18" stroke-width="0.6"/>
<circle cx="520.6" cy="174.9" r="2.15" fill="#f29a34" stroke="#cf7a18" stroke-width="0.6"/>
<circle cx="524.5" cy="170.9" r="2.15" fill="#f29a34" stroke="#cf7a18" stroke-width="0.6"/>
<circle cx="529.8" cy="165.7" r="2.15" fill="#f29a34" stroke="#cf7a18" stroke-width="0.6"/>
<circle cx="422.5" cy="169.3" r="2.15" fill="#f29a34" stroke="#cf7a18" stroke-width="0.6"/>
<text x="433.20" y="171.90" font-size="7.8" font-weight="bold" text-anchor="start" fill="#1a1a1a" >Photocurrent</text>
<line x1="413.00" y1="179.50" x2="431.90" y2="179.50" stroke="#f7a040" stroke-width="1.3" />
<text x="433.20" y="182.10" font-size="7.8" font-weight="bold" text-anchor="start" fill="#1a1a1a" >Fitting</text>
<text x="488.40" y="245.70" font-size="7.6" font-weight="bold" text-anchor="start" fill="#1a1a1a" >I</text>
<text x="490.90" y="248.60" font-size="4.8" font-weight="bold" text-anchor="start" fill="#1a1a1a" >ph</text>
<text x="498.00" y="244.20" font-size="6" font-weight="normal" text-anchor="start" fill="#666" >∝</text>
<text x="504.60" y="245.70" font-size="7.6" font-weight="bold" text-anchor="start" fill="#1a1a1a" >P</text>
<text x="509.60" y="242.40" font-size="4.8" font-weight="bold" text-anchor="start" fill="#1a1a1a" >θ</text>
<rect x="404.5" y="160.6" width="135.50" height="108.10" fill="none" stroke="#111" stroke-width="1.35"/>
<line x1="402.20" y1="322.70" x2="404.60" y2="322.70" stroke="#111" stroke-width="1.1" />
<text x="400.00" y="325.10" font-size="6.8" font-weight="bold" text-anchor="end" fill="#1a1a1a" >1.0</text>
<line x1="402.20" y1="342.66" x2="404.60" y2="342.66" stroke="#111" stroke-width="1.1" />
<text x="400.00" y="345.06" font-size="6.8" font-weight="bold" text-anchor="end" fill="#1a1a1a" >0.8</text>
<line x1="402.20" y1="362.62" x2="404.60" y2="362.62" stroke="#111" stroke-width="1.1" />
<text x="400.00" y="365.02" font-size="6.8" font-weight="bold" text-anchor="end" fill="#1a1a1a" >0.6</text>
<line x1="402.20" y1="382.58" x2="404.60" y2="382.58" stroke="#111" stroke-width="1.1" />
<text x="400.00" y="384.98" font-size="6.8" font-weight="bold" text-anchor="end" fill="#1a1a1a" >0.4</text>
<line x1="402.20" y1="402.54" x2="404.60" y2="402.54" stroke="#111" stroke-width="1.1" />
<text x="400.00" y="404.94" font-size="6.8" font-weight="bold" text-anchor="end" fill="#1a1a1a" >0.2</text>
<line x1="402.20" y1="422.50" x2="404.60" y2="422.50" stroke="#111" stroke-width="1.1" />
<text x="400.00" y="424.90" font-size="6.8" font-weight="bold" text-anchor="end" fill="#1a1a1a" >0.0</text>
<line x1="402.20" y1="332.68" x2="403.80" y2="332.68" stroke="#111" stroke-width="1" />
<line x1="402.20" y1="352.64" x2="403.80" y2="352.64" stroke="#111" stroke-width="1" />
<line x1="402.20" y1="372.60" x2="403.80" y2="372.60" stroke="#111" stroke-width="1" />
<line x1="402.20" y1="392.56" x2="403.80" y2="392.56" stroke="#111" stroke-width="1" />
<line x1="402.20" y1="412.52" x2="403.80" y2="412.52" stroke="#111" stroke-width="1" />
<line x1="409.50" y1="431.70" x2="409.50" y2="429.30" stroke="#111" stroke-width="1.1" />
<text x="409.50" y="439.40" font-size="6.8" font-weight="bold" text-anchor="middle" fill="#1a1a1a" >0</text>
<line x1="439.50" y1="431.70" x2="439.50" y2="429.30" stroke="#111" stroke-width="1.1" />
<text x="439.50" y="439.40" font-size="6.8" font-weight="bold" text-anchor="middle" fill="#1a1a1a" >40</text>
<line x1="469.50" y1="431.70" x2="469.50" y2="429.30" stroke="#111" stroke-width="1.1" />
<text x="469.50" y="439.40" font-size="6.8" font-weight="bold" text-anchor="middle" fill="#1a1a1a" >80</text>
<line x1="499.50" y1="431.70" x2="499.50" y2="429.30" stroke="#111" stroke-width="1.1" />
<text x="499.50" y="439.40" font-size="6.8" font-weight="bold" text-anchor="middle" fill="#1a1a1a" >120</text>
<line x1="529.50" y1="431.70" x2="529.50" y2="429.30" stroke="#111" stroke-width="1.1" />
<text x="529.50" y="439.40" font-size="6.8" font-weight="bold" text-anchor="middle" fill="#1a1a1a" >160</text>
<line x1="424.50" y1="431.70" x2="424.50" y2="430.10" stroke="#111" stroke-width="1" />
<line x1="454.50" y1="431.70" x2="454.50" y2="430.10" stroke="#111" stroke-width="1" />
<line x1="484.50" y1="431.70" x2="484.50" y2="430.10" stroke="#111" stroke-width="1" />
<line x1="514.50" y1="431.70" x2="514.50" y2="430.10" stroke="#111" stroke-width="1" />
<text x="475.00" y="448.20" font-size="8.0" font-weight="bold" text-anchor="middle" fill="#1a1a1a" >Light Intensity (mW/cm<tspan font-size="5.5" dy="-3">2</tspan><tspan dy="3">)</tspan></text>
<text x="0.00" y="0.00" font-size="7.9" font-weight="bold" text-anchor="middle" fill="#000" transform="translate(388.3,371.4) rotate(-90)">Photocurrent (pA)</text>
<circle cx="417.0" cy="422.0" r="3.2" fill="#cdcdf4" stroke="#3c3cc0" stroke-width="1.05"/>
<line x1="417.00" y1="419.30" x2="417.00" y2="424.70" stroke="#3c3cc0" stroke-width="0.7" />
<line x1="414.30" y1="422.00" x2="419.70" y2="422.00" stroke="#3c3cc0" stroke-width="0.7" />
<polygon points="417.00,413.31 417.99,415.54 420.42,415.80 418.61,417.43 419.12,419.82 417.00,418.60 414.88,419.82 415.39,417.43 413.58,415.80 416.01,415.54" fill="#a8653c" stroke="#8a4c2a" stroke-width="0.4" />
<polygon points="417.00,387.06 420.40,392.46 413.60,392.46" fill="#ffdede" stroke="#f02c2c" stroke-width="1.1" />
<line x1="417.00" y1="387.56" x2="417.00" y2="394.56" stroke="#f02c2c" stroke-width="1.0" />
<line x1="414.80" y1="390.96" x2="419.20" y2="390.96" stroke="#f02c2c" stroke-width="1.0" />
<circle cx="428.25" cy="422.0" r="3.2" fill="#cdcdf4" stroke="#3c3cc0" stroke-width="1.05"/>
<line x1="428.25" y1="419.30" x2="428.25" y2="424.70" stroke="#3c3cc0" stroke-width="0.7" />
<line x1="425.55" y1="422.00" x2="430.95" y2="422.00" stroke="#3c3cc0" stroke-width="0.7" />
<polygon points="428.25,410.62 429.24,412.85 431.67,413.10 429.86,414.74 430.37,417.13 428.25,415.91 426.13,417.13 426.64,414.74 424.83,413.10 427.26,412.85" fill="#a8653c" stroke="#8a4c2a" stroke-width="0.4" />
<polygon points="428.25,376.58 431.65,381.98 424.85,381.98" fill="#ffdede" stroke="#f02c2c" stroke-width="1.1" />
<line x1="428.25" y1="377.08" x2="428.25" y2="384.08" stroke="#f02c2c" stroke-width="1.0" />
<line x1="426.05" y1="380.48" x2="430.45" y2="380.48" stroke="#f02c2c" stroke-width="1.0" />
<circle cx="443.25" cy="422.0" r="3.2" fill="#cdcdf4" stroke="#3c3cc0" stroke-width="1.05"/>
<line x1="443.25" y1="419.30" x2="443.25" y2="424.70" stroke="#3c3cc0" stroke-width="0.7" />
<line x1="440.55" y1="422.00" x2="445.95" y2="422.00" stroke="#3c3cc0" stroke-width="0.7" />
<polygon points="443.25,409.02 444.24,411.25 446.67,411.51 444.86,413.14 445.37,415.53 443.25,414.31 441.13,415.53 441.64,413.14 439.83,411.51 442.26,411.25" fill="#a8653c" stroke="#8a4c2a" stroke-width="0.4" />
<polygon points="443.25,367.30 446.65,372.70 439.85,372.70" fill="#ffdede" stroke="#f02c2c" stroke-width="1.1" />
<line x1="443.25" y1="367.80" x2="443.25" y2="374.80" stroke="#f02c2c" stroke-width="1.0" />
<line x1="441.05" y1="371.20" x2="445.45" y2="371.20" stroke="#f02c2c" stroke-width="1.0" />
<circle cx="473.25" cy="422.0" r="3.2" fill="#cdcdf4" stroke="#3c3cc0" stroke-width="1.05"/>
<line x1="473.25" y1="419.30" x2="473.25" y2="424.70" stroke="#3c3cc0" stroke-width="0.7" />
<line x1="470.55" y1="422.00" x2="475.95" y2="422.00" stroke="#3c3cc0" stroke-width="0.7" />
<polygon points="473.25,406.62 474.24,408.86 476.67,409.11 474.86,410.75 475.37,413.14 473.25,411.92 471.13,413.14 471.64,410.75 469.83,409.11 472.26,408.86" fill="#a8653c" stroke="#8a4c2a" stroke-width="0.4" />
<polygon points="473.25,357.42 476.65,362.82 469.85,362.82" fill="#ffdede" stroke="#f02c2c" stroke-width="1.1" />
<line x1="473.25" y1="357.92" x2="473.25" y2="364.92" stroke="#f02c2c" stroke-width="1.0" />
<line x1="471.05" y1="361.32" x2="475.45" y2="361.32" stroke="#f02c2c" stroke-width="1.0" />
<circle cx="492.0" cy="422.0" r="3.2" fill="#cdcdf4" stroke="#3c3cc0" stroke-width="1.05"/>
<line x1="492.00" y1="419.30" x2="492.00" y2="424.70" stroke="#3c3cc0" stroke-width="0.7" />
<line x1="489.30" y1="422.00" x2="494.70" y2="422.00" stroke="#3c3cc0" stroke-width="0.7" />
<polygon points="492.00,405.33 492.99,407.56 495.42,407.81 493.61,409.45 494.12,411.84 492.00,410.62 489.88,411.84 490.39,409.45 488.58,407.81 491.01,407.56" fill="#a8653c" stroke="#8a4c2a" stroke-width="0.4" />
<polygon points="492.00,345.25 495.40,350.65 488.60,350.65" fill="#ffdede" stroke="#f02c2c" stroke-width="1.1" />
<line x1="492.00" y1="345.75" x2="492.00" y2="352.75" stroke="#f02c2c" stroke-width="1.0" />
<line x1="489.80" y1="349.15" x2="494.20" y2="349.15" stroke="#f02c2c" stroke-width="1.0" />
<circle cx="510.75" cy="422.0" r="3.2" fill="#cdcdf4" stroke="#3c3cc0" stroke-width="1.05"/>
<line x1="510.75" y1="419.30" x2="510.75" y2="424.70" stroke="#3c3cc0" stroke-width="0.7" />
<line x1="508.05" y1="422.00" x2="513.45" y2="422.00" stroke="#3c3cc0" stroke-width="0.7" />
<polygon points="510.75,404.33 511.74,406.56 514.17,406.82 512.36,408.45 512.87,410.84 510.75,409.62 508.63,410.84 509.14,408.45 507.33,406.82 509.76,406.56" fill="#a8653c" stroke="#8a4c2a" stroke-width="0.4" />
<polygon points="510.75,333.47 514.15,338.87 507.35,338.87" fill="#ffdede" stroke="#f02c2c" stroke-width="1.1" />
<line x1="510.75" y1="333.97" x2="510.75" y2="340.97" stroke="#f02c2c" stroke-width="1.0" />
<line x1="508.55" y1="337.37" x2="512.95" y2="337.37" stroke="#f02c2c" stroke-width="1.0" />
<circle cx="529.5" cy="417.509" r="3.2" fill="#cdcdf4" stroke="#3c3cc0" stroke-width="1.05"/>
<line x1="529.50" y1="414.81" x2="529.50" y2="420.21" stroke="#3c3cc0" stroke-width="0.7" />
<line x1="526.80" y1="417.51" x2="532.20" y2="417.51" stroke="#3c3cc0" stroke-width="0.7" />
<polygon points="529.50,402.63 530.49,404.86 532.92,405.12 531.11,406.75 531.62,409.14 529.50,407.92 527.38,409.14 527.89,406.75 526.08,405.12 528.51,404.86" fill="#a8653c" stroke="#8a4c2a" stroke-width="0.4" />
<polygon points="529.50,314.61 532.90,320.01 526.10,320.01" fill="#ffdede" stroke="#f02c2c" stroke-width="1.1" />
<line x1="529.50" y1="315.11" x2="529.50" y2="322.11" stroke="#f02c2c" stroke-width="1.0" />
<line x1="527.30" y1="318.51" x2="531.70" y2="318.51" stroke="#f02c2c" stroke-width="1.0" />
<polygon points="415.30,319.40 416.29,321.63 418.72,321.89 416.91,323.52 417.42,325.91 415.30,324.69 413.18,325.91 413.69,323.52 411.88,321.89 414.31,321.63" fill="#a8653c" stroke="#8a4c2a" stroke-width="0.4" />
<polygon points="415.30,327.30 418.70,332.70 411.90,332.70" fill="#ffdede" stroke="#f02c2c" stroke-width="1.1" />
<line x1="415.30" y1="327.80" x2="415.30" y2="334.80" stroke="#f02c2c" stroke-width="1.0" />
<line x1="413.10" y1="331.20" x2="417.50" y2="331.20" stroke="#f02c2c" stroke-width="1.0" />
<circle cx="415.3" cy="338.0" r="3.2" fill="#cdcdf4" stroke="#3c3cc0" stroke-width="1.05"/>
<line x1="415.30" y1="335.30" x2="415.30" y2="340.70" stroke="#3c3cc0" stroke-width="0.7" />
<line x1="412.60" y1="338.00" x2="418.00" y2="338.00" stroke="#3c3cc0" stroke-width="0.7" />
<text x="424.20" y="325.90" font-size="6.45" font-weight="bold" text-anchor="start" fill="#1a1a1a" >10 mg/ml</text>
<text x="424.20" y="333.50" font-size="6.45" font-weight="bold" text-anchor="start" fill="#1a1a1a" >7.5 mg/ml</text>
<text x="427.20" y="341.20" font-size="6.45" font-weight="bold" text-anchor="start" fill="#1a1a1a" >5 mg/ml</text>
<text x="459.20" y="325.90" font-size="6.45" font-weight="bold" text-anchor="start" fill="#1a1a1a" >1064 nm</text>
<rect x="402.2" y="312.9" width="142.60" height="118.80" fill="none" stroke="#111" stroke-width="1.35"/>
<defs>
<linearGradient id="abg" x1="0" y1="0" x2="1" y2="0">
<stop offset="0" stop-color="#c4e4f6"/><stop offset="0.3" stop-color="#cde3f0"/>
<stop offset="0.55" stop-color="#d3dce2"/><stop offset="0.8" stop-color="#cdcfd1"/><stop offset="1" stop-color="#c5c5c5"/>
</linearGradient>
<radialGradient id="aglow" cx="0.5" cy="0.32" r="0.5" fx="0.5" fy="0.3">
<stop offset="0" stop-color="#f150e2" stop-opacity="1"/><stop offset="0.35" stop-color="#f25ce4" stop-opacity="0.92"/>
<stop offset="0.7" stop-color="#f27ae6" stop-opacity="0.45"/><stop offset="1" stop-color="#f290ea" stop-opacity="0"/>
</radialGradient>
<linearGradient id="adome" x1="0" y1="0" x2="1" y2="1">
<stop offset="0" stop-color="#ffffff"/><stop offset="0.55" stop-color="#f4f4f4"/><stop offset="1" stop-color="#c4c4c4"/>
</linearGradient>
<filter id="ablur" x="-50%" y="-50%" width="200%" height="200%"><feGaussianBlur stdDeviation="4"/></filter>
<clipPath id="aclip"><rect x="14" y="29" width="155.5" height="93"/></clipPath>
</defs>
<rect x="14" y="29" width="155.5" height="93" fill="url(#abg)"/>
<g clip-path="url(#aclip)">
<ellipse cx="63" cy="50" rx="22" ry="46" fill="url(#aglow)"/>
<ellipse cx="63" cy="42" rx="14" ry="28" fill="#f266e6" opacity="0.8" filter="url(#ablur)"/>
<ellipse cx="65" cy="84" rx="15" ry="18" fill="#ec66e2" opacity="0.7" filter="url(#ablur)"/>
<polygon points="38.90,76.00 100.00,80.50 168.00,83.50 164.50,95.40 18.90,90.00" fill="#5bbfcd" stroke="none" stroke-width="1" />
<polygon points="18.90,90.00 164.50,95.40 164.50,112.50 18.90,104.40" fill="#53b9c8" stroke="none" stroke-width="1" />
<ellipse cx="64" cy="92" rx="12" ry="12" fill="#c070d8" opacity="0.45" filter="url(#ablur)"/>
<line x1="47.98" y1="79.24" x2="51.18" y2="79.84" stroke="#5a2a5a" stroke-width="1.0" />
<line x1="44.99" y1="83.88" x2="48.19" y2="84.48" stroke="#5a2a5a" stroke-width="1.0" />
<line x1="54.92" y1="79.79" x2="58.12" y2="80.39" stroke="#5a2a5a" stroke-width="1.0" />
<line x1="52.11" y1="83.91" x2="55.31" y2="84.51" stroke="#5a2a5a" stroke-width="1.0" />
<line x1="50.09" y1="88.70" x2="53.29" y2="89.30" stroke="#5a2a5a" stroke-width="1.0" />
<line x1="63.54" y1="79.82" x2="66.74" y2="80.42" stroke="#5a2a5a" stroke-width="1.0" />
<line x1="60.02" y1="84.16" x2="63.22" y2="84.76" stroke="#5a2a5a" stroke-width="1.0" />
<line x1="56.82" y1="89.33" x2="60.02" y2="89.93" stroke="#5a2a5a" stroke-width="1.0" />
<line x1="70.34" y1="80.35" x2="73.54" y2="80.95" stroke="#5a2a5a" stroke-width="1.0" />
<line x1="67.37" y1="84.41" x2="70.57" y2="85.01" stroke="#5a2a5a" stroke-width="1.0" />
<line x1="64.31" y1="89.43" x2="67.51" y2="90.03" stroke="#5a2a5a" stroke-width="1.0" />
<line x1="77.28" y1="80.10" x2="80.48" y2="80.70" stroke="#222" stroke-width="1.0" />
<line x1="74.98" y1="85.06" x2="78.18" y2="85.66" stroke="#222" stroke-width="1.0" />
<line x1="71.55" y1="89.98" x2="74.75" y2="90.58" stroke="#5a2a5a" stroke-width="1.0" />
<line x1="85.24" y1="81.14" x2="88.44" y2="81.74" stroke="#222" stroke-width="1.0" />
<line x1="81.53" y1="85.64" x2="84.73" y2="86.24" stroke="#222" stroke-width="1.0" />
<line x1="78.41" y1="90.35" x2="81.61" y2="90.95" stroke="#222" stroke-width="1.0" />
<line x1="92.81" y1="80.80" x2="96.01" y2="81.40" stroke="#222" stroke-width="1.0" />
<line x1="88.42" y1="85.49" x2="91.62" y2="86.09" stroke="#222" stroke-width="1.0" />
<line x1="86.54" y1="90.27" x2="89.74" y2="90.87" stroke="#222" stroke-width="1.0" />
<line x1="99.70" y1="81.28" x2="102.90" y2="81.88" stroke="#222" stroke-width="1.0" />
<line x1="96.31" y1="85.95" x2="99.51" y2="86.55" stroke="#222" stroke-width="1.0" />
<line x1="92.86" y1="90.71" x2="96.06" y2="91.31" stroke="#222" stroke-width="1.0" />
<line x1="106.93" y1="82.08" x2="110.13" y2="82.68" stroke="#222" stroke-width="1.0" />
<line x1="103.89" y1="86.70" x2="107.09" y2="87.30" stroke="#222" stroke-width="1.0" />
<line x1="100.97" y1="91.35" x2="104.17" y2="91.95" stroke="#222" stroke-width="1.0" />
<line x1="114.37" y1="81.81" x2="117.57" y2="82.41" stroke="#222" stroke-width="1.0" />
<line x1="111.48" y1="87.05" x2="114.68" y2="87.65" stroke="#222" stroke-width="1.0" />
<line x1="108.35" y1="91.34" x2="111.55" y2="91.94" stroke="#222" stroke-width="1.0" />
<line x1="121.74" y1="82.17" x2="124.94" y2="82.77" stroke="#222" stroke-width="1.0" />
<line x1="118.73" y1="87.06" x2="121.93" y2="87.66" stroke="#222" stroke-width="1.0" />
<line x1="114.66" y1="91.25" x2="117.86" y2="91.85" stroke="#222" stroke-width="1.0" />
<line x1="129.27" y1="83.11" x2="132.47" y2="83.71" stroke="#222" stroke-width="1.0" />
<line x1="124.84" y1="87.56" x2="128.04" y2="88.16" stroke="#222" stroke-width="1.0" />
<line x1="122.16" y1="91.64" x2="125.36" y2="92.24" stroke="#222" stroke-width="1.0" />
<line x1="135.67" y1="83.26" x2="138.87" y2="83.86" stroke="#222" stroke-width="1.0" />
<line x1="133.40" y1="87.28" x2="136.60" y2="87.88" stroke="#222" stroke-width="1.0" />
<line x1="129.78" y1="91.88" x2="132.98" y2="92.48" stroke="#222" stroke-width="1.0" />
<line x1="143.65" y1="83.22" x2="146.85" y2="83.82" stroke="#222" stroke-width="1.0" />
<line x1="140.71" y1="88.34" x2="143.91" y2="88.94" stroke="#222" stroke-width="1.0" />
<line x1="136.91" y1="92.96" x2="140.11" y2="93.56" stroke="#222" stroke-width="1.0" />
<line x1="150.30" y1="83.34" x2="153.50" y2="83.94" stroke="#222" stroke-width="1.0" />
<line x1="147.56" y1="87.91" x2="150.76" y2="88.51" stroke="#222" stroke-width="1.0" />
<line x1="143.72" y1="92.81" x2="146.92" y2="93.41" stroke="#222" stroke-width="1.0" />
<line x1="158.08" y1="83.72" x2="161.28" y2="84.32" stroke="#222" stroke-width="1.0" />
<line x1="153.97" y1="88.89" x2="157.17" y2="89.49" stroke="#222" stroke-width="1.0" />
<line x1="151.20" y1="93.57" x2="154.40" y2="94.17" stroke="#222" stroke-width="1.0" />
<line x1="51.85" y1="65.90" x2="58.25" y2="68.90" stroke="#a8a8a8" stroke-width="0.5" />
<line x1="51.85" y1="68.90" x2="58.25" y2="65.90" stroke="#a8a8a8" stroke-width="0.5" />
<circle cx="55.1" cy="67.4" r="1.15" fill="#f4d8f0" stroke="#9a9a9a" stroke-width="0.35"/>
<line x1="53.55" y1="69.10" x2="59.95" y2="72.10" stroke="#a8a8a8" stroke-width="0.5" />
<line x1="53.55" y1="72.10" x2="59.95" y2="69.10" stroke="#a8a8a8" stroke-width="0.5" />
<circle cx="56.8" cy="70.6" r="1.15" fill="#f4d8f0" stroke="#9a9a9a" stroke-width="0.35"/>
<line x1="51.85" y1="72.30" x2="58.25" y2="75.30" stroke="#a8a8a8" stroke-width="0.5" />
<line x1="51.85" y1="75.30" x2="58.25" y2="72.30" stroke="#a8a8a8" stroke-width="0.5" />
<circle cx="55.1" cy="73.8" r="1.15" fill="#f4d8f0" stroke="#9a9a9a" stroke-width="0.35"/>
<line x1="53.55" y1="75.50" x2="59.95" y2="78.50" stroke="#a8a8a8" stroke-width="0.5" />
<line x1="53.55" y1="78.50" x2="59.95" y2="75.50" stroke="#a8a8a8" stroke-width="0.5" />
<circle cx="56.8" cy="77.0" r="1.15" fill="#f4d8f0" stroke="#9a9a9a" stroke-width="0.35"/>
<line x1="51.85" y1="78.70" x2="58.25" y2="81.70" stroke="#a8a8a8" stroke-width="0.5" />
<line x1="51.85" y1="81.70" x2="58.25" y2="78.70" stroke="#a8a8a8" stroke-width="0.5" />
<circle cx="55.1" cy="80.2" r="1.15" fill="#f4d8f0" stroke="#9a9a9a" stroke-width="0.35"/>
<line x1="53.55" y1="81.90" x2="59.95" y2="84.90" stroke="#a8a8a8" stroke-width="0.5" />
<line x1="53.55" y1="84.90" x2="59.95" y2="81.90" stroke="#a8a8a8" stroke-width="0.5" />
<circle cx="56.8" cy="83.4" r="1.15" fill="#f4d8f0" stroke="#9a9a9a" stroke-width="0.35"/>
<line x1="51.85" y1="85.10" x2="58.25" y2="88.10" stroke="#a8a8a8" stroke-width="0.5" />
<line x1="51.85" y1="88.10" x2="58.25" y2="85.10" stroke="#a8a8a8" stroke-width="0.5" />
<circle cx="55.1" cy="86.6" r="1.15" fill="#f4d8f0" stroke="#9a9a9a" stroke-width="0.35"/>
<line x1="62.00" y1="62.70" x2="68.40" y2="65.70" stroke="#a8a8a8" stroke-width="0.5" />
<line x1="62.00" y1="65.70" x2="68.40" y2="62.70" stroke="#a8a8a8" stroke-width="0.5" />
<circle cx="65.2" cy="64.2" r="1.15" fill="#f4d8f0" stroke="#9a9a9a" stroke-width="0.35"/>
<line x1="60.30" y1="65.90" x2="66.70" y2="68.90" stroke="#a8a8a8" stroke-width="0.5" />
<line x1="60.30" y1="68.90" x2="66.70" y2="65.90" stroke="#a8a8a8" stroke-width="0.5" />
<circle cx="63.5" cy="67.4" r="1.15" fill="#f4d8f0" stroke="#9a9a9a" stroke-width="0.35"/>
<line x1="62.00" y1="69.10" x2="68.40" y2="72.10" stroke="#a8a8a8" stroke-width="0.5" />
<line x1="62.00" y1="72.10" x2="68.40" y2="69.10" stroke="#a8a8a8" stroke-width="0.5" />
<circle cx="65.2" cy="70.6" r="1.15" fill="#f4d8f0" stroke="#9a9a9a" stroke-width="0.35"/>
<line x1="60.30" y1="72.30" x2="66.70" y2="75.30" stroke="#a8a8a8" stroke-width="0.5" />
<line x1="60.30" y1="75.30" x2="66.70" y2="72.30" stroke="#a8a8a8" stroke-width="0.5" />
<circle cx="63.5" cy="73.8" r="1.15" fill="#f4d8f0" stroke="#9a9a9a" stroke-width="0.35"/>
<line x1="62.00" y1="75.50" x2="68.40" y2="78.50" stroke="#a8a8a8" stroke-width="0.5" />
<line x1="62.00" y1="78.50" x2="68.40" y2="75.50" stroke="#a8a8a8" stroke-width="0.5" />
<circle cx="65.2" cy="77.0" r="1.15" fill="#f4d8f0" stroke="#9a9a9a" stroke-width="0.35"/>
<line x1="60.30" y1="78.70" x2="66.70" y2="81.70" stroke="#a8a8a8" stroke-width="0.5" />
<line x1="60.30" y1="81.70" x2="66.70" y2="78.70" stroke="#a8a8a8" stroke-width="0.5" />
<circle cx="63.5" cy="80.2" r="1.15" fill="#f4d8f0" stroke="#9a9a9a" stroke-width="0.35"/>
<line x1="62.00" y1="81.90" x2="68.40" y2="84.90" stroke="#a8a8a8" stroke-width="0.5" />
<line x1="62.00" y1="84.90" x2="68.40" y2="81.90" stroke="#a8a8a8" stroke-width="0.5" />
<circle cx="65.2" cy="83.4" r="1.15" fill="#f4d8f0" stroke="#9a9a9a" stroke-width="0.35"/>
<line x1="60.30" y1="85.10" x2="66.70" y2="88.10" stroke="#a8a8a8" stroke-width="0.5" />
<line x1="60.30" y1="88.10" x2="66.70" y2="85.10" stroke="#a8a8a8" stroke-width="0.5" />
<circle cx="63.5" cy="86.6" r="1.15" fill="#f4d8f0" stroke="#9a9a9a" stroke-width="0.35"/>
<line x1="70.45" y1="62.70" x2="76.85" y2="65.70" stroke="#a8a8a8" stroke-width="0.5" />
<line x1="70.45" y1="65.70" x2="76.85" y2="62.70" stroke="#a8a8a8" stroke-width="0.5" />
<circle cx="73.6" cy="64.2" r="1.15" fill="#f4d8f0" stroke="#9a9a9a" stroke-width="0.35"/>
<line x1="68.75" y1="65.90" x2="75.15" y2="68.90" stroke="#a8a8a8" stroke-width="0.5" />
<line x1="68.75" y1="68.90" x2="75.15" y2="65.90" stroke="#a8a8a8" stroke-width="0.5" />
<circle cx="72.0" cy="67.4" r="1.15" fill="#f4d8f0" stroke="#9a9a9a" stroke-width="0.35"/>
<line x1="70.45" y1="69.10" x2="76.85" y2="72.10" stroke="#a8a8a8" stroke-width="0.5" />
<line x1="70.45" y1="72.10" x2="76.85" y2="69.10" stroke="#a8a8a8" stroke-width="0.5" />
<circle cx="73.6" cy="70.6" r="1.15" fill="#f4d8f0" stroke="#9a9a9a" stroke-width="0.35"/>
<line x1="68.75" y1="72.30" x2="75.15" y2="75.30" stroke="#a8a8a8" stroke-width="0.5" />
<line x1="68.75" y1="75.30" x2="75.15" y2="72.30" stroke="#a8a8a8" stroke-width="0.5" />
<circle cx="72.0" cy="73.8" r="1.15" fill="#f4d8f0" stroke="#9a9a9a" stroke-width="0.35"/>
<line x1="70.45" y1="75.50" x2="76.85" y2="78.50" stroke="#a8a8a8" stroke-width="0.5" />
<line x1="70.45" y1="78.50" x2="76.85" y2="75.50" stroke="#a8a8a8" stroke-width="0.5" />
<circle cx="73.6" cy="77.0" r="1.15" fill="#f4d8f0" stroke="#9a9a9a" stroke-width="0.35"/>
<line x1="68.75" y1="78.70" x2="75.15" y2="81.70" stroke="#a8a8a8" stroke-width="0.5" />
<line x1="68.75" y1="81.70" x2="75.15" y2="78.70" stroke="#a8a8a8" stroke-width="0.5" />
<circle cx="72.0" cy="80.2" r="1.15" fill="#f4d8f0" stroke="#9a9a9a" stroke-width="0.35"/>
<line x1="70.45" y1="81.90" x2="76.85" y2="84.90" stroke="#a8a8a8" stroke-width="0.5" />
<line x1="70.45" y1="84.90" x2="76.85" y2="81.90" stroke="#a8a8a8" stroke-width="0.5" />
<circle cx="73.6" cy="83.4" r="1.15" fill="#f4d8f0" stroke="#9a9a9a" stroke-width="0.35"/>
<line x1="68.75" y1="85.10" x2="75.15" y2="88.10" stroke="#a8a8a8" stroke-width="0.5" />
<line x1="68.75" y1="88.10" x2="75.15" y2="85.10" stroke="#a8a8a8" stroke-width="0.5" />
<circle cx="72.0" cy="86.6" r="1.15" fill="#f4d8f0" stroke="#9a9a9a" stroke-width="0.35"/>
<line x1="77.20" y1="59.50" x2="83.60" y2="62.50" stroke="#a8a8a8" stroke-width="0.5" />
<line x1="77.20" y1="62.50" x2="83.60" y2="59.50" stroke="#a8a8a8" stroke-width="0.5" />
<circle cx="80.4" cy="61.0" r="1.15" fill="#f8f8f8" stroke="#9a9a9a" stroke-width="0.35"/>
<line x1="78.90" y1="62.70" x2="85.30" y2="65.70" stroke="#a8a8a8" stroke-width="0.5" />
<line x1="78.90" y1="65.70" x2="85.30" y2="62.70" stroke="#a8a8a8" stroke-width="0.5" />
<circle cx="82.1" cy="64.2" r="1.15" fill="#f8f8f8" stroke="#9a9a9a" stroke-width="0.35"/>
<line x1="77.20" y1="65.90" x2="83.60" y2="68.90" stroke="#a8a8a8" stroke-width="0.5" />
<line x1="77.20" y1="68.90" x2="83.60" y2="65.90" stroke="#a8a8a8" stroke-width="0.5" />
<circle cx="80.4" cy="67.4" r="1.15" fill="#f8f8f8" stroke="#9a9a9a" stroke-width="0.35"/>
<line x1="78.90" y1="69.10" x2="85.30" y2="72.10" stroke="#a8a8a8" stroke-width="0.5" />
<line x1="78.90" y1="72.10" x2="85.30" y2="69.10" stroke="#a8a8a8" stroke-width="0.5" />
<circle cx="82.1" cy="70.6" r="1.15" fill="#f8f8f8" stroke="#9a9a9a" stroke-width="0.35"/>
<line x1="77.20" y1="72.30" x2="83.60" y2="75.30" stroke="#a8a8a8" stroke-width="0.5" />
<line x1="77.20" y1="75.30" x2="83.60" y2="72.30" stroke="#a8a8a8" stroke-width="0.5" />
<circle cx="80.4" cy="73.8" r="1.15" fill="#f8f8f8" stroke="#9a9a9a" stroke-width="0.35"/>
<line x1="78.90" y1="75.50" x2="85.30" y2="78.50" stroke="#a8a8a8" stroke-width="0.5" />
<line x1="78.90" y1="78.50" x2="85.30" y2="75.50" stroke="#a8a8a8" stroke-width="0.5" />
<circle cx="82.1" cy="77.0" r="1.15" fill="#f8f8f8" stroke="#9a9a9a" stroke-width="0.35"/>
<line x1="77.20" y1="78.70" x2="83.60" y2="81.70" stroke="#a8a8a8" stroke-width="0.5" />
<line x1="77.20" y1="81.70" x2="83.60" y2="78.70" stroke="#a8a8a8" stroke-width="0.5" />
<circle cx="80.4" cy="80.2" r="1.15" fill="#f8f8f8" stroke="#9a9a9a" stroke-width="0.35"/>
<line x1="78.90" y1="81.90" x2="85.30" y2="84.90" stroke="#a8a8a8" stroke-width="0.5" />
<line x1="78.90" y1="84.90" x2="85.30" y2="81.90" stroke="#a8a8a8" stroke-width="0.5" />
<circle cx="82.1" cy="83.4" r="1.15" fill="#f8f8f8" stroke="#9a9a9a" stroke-width="0.35"/>
<line x1="77.20" y1="85.10" x2="83.60" y2="88.10" stroke="#a8a8a8" stroke-width="0.5" />
<line x1="77.20" y1="88.10" x2="83.60" y2="85.10" stroke="#a8a8a8" stroke-width="0.5" />
<circle cx="80.4" cy="86.6" r="1.15" fill="#f8f8f8" stroke="#9a9a9a" stroke-width="0.35"/>
<line x1="85.65" y1="59.50" x2="92.05" y2="62.50" stroke="#a8a8a8" stroke-width="0.5" />
<line x1="85.65" y1="62.50" x2="92.05" y2="59.50" stroke="#a8a8a8" stroke-width="0.5" />
<circle cx="88.9" cy="61.0" r="1.15" fill="#f8f8f8" stroke="#9a9a9a" stroke-width="0.35"/>
<line x1="87.35" y1="62.70" x2="93.75" y2="65.70" stroke="#a8a8a8" stroke-width="0.5" />
<line x1="87.35" y1="65.70" x2="93.75" y2="62.70" stroke="#a8a8a8" stroke-width="0.5" />
<circle cx="90.5" cy="64.2" r="1.15" fill="#f8f8f8" stroke="#9a9a9a" stroke-width="0.35"/>
<line x1="85.65" y1="65.90" x2="92.05" y2="68.90" stroke="#a8a8a8" stroke-width="0.5" />
<line x1="85.65" y1="68.90" x2="92.05" y2="65.90" stroke="#a8a8a8" stroke-width="0.5" />
<circle cx="88.9" cy="67.4" r="1.15" fill="#f8f8f8" stroke="#9a9a9a" stroke-width="0.35"/>
<line x1="87.35" y1="69.10" x2="93.75" y2="72.10" stroke="#a8a8a8" stroke-width="0.5" />
<line x1="87.35" y1="72.10" x2="93.75" y2="69.10" stroke="#a8a8a8" stroke-width="0.5" />
<circle cx="90.5" cy="70.6" r="1.15" fill="#f8f8f8" stroke="#9a9a9a" stroke-width="0.35"/>
<line x1="85.65" y1="72.30" x2="92.05" y2="75.30" stroke="#a8a8a8" stroke-width="0.5" />
<line x1="85.65" y1="75.30" x2="92.05" y2="72.30" stroke="#a8a8a8" stroke-width="0.5" />
<circle cx="88.9" cy="73.8" r="1.15" fill="#f8f8f8" stroke="#9a9a9a" stroke-width="0.35"/>
<line x1="87.35" y1="75.50" x2="93.75" y2="78.50" stroke="#a8a8a8" stroke-width="0.5" />
<line x1="87.35" y1="78.50" x2="93.75" y2="75.50" stroke="#a8a8a8" stroke-width="0.5" />
<circle cx="90.5" cy="77.0" r="1.15" fill="#f8f8f8" stroke="#9a9a9a" stroke-width="0.35"/>
<line x1="85.65" y1="78.70" x2="92.05" y2="81.70" stroke="#a8a8a8" stroke-width="0.5" />
<line x1="85.65" y1="81.70" x2="92.05" y2="78.70" stroke="#a8a8a8" stroke-width="0.5" />
<circle cx="88.9" cy="80.2" r="1.15" fill="#f8f8f8" stroke="#9a9a9a" stroke-width="0.35"/>
<line x1="87.35" y1="81.90" x2="93.75" y2="84.90" stroke="#a8a8a8" stroke-width="0.5" />
<line x1="87.35" y1="84.90" x2="93.75" y2="81.90" stroke="#a8a8a8" stroke-width="0.5" />
<circle cx="90.5" cy="83.4" r="1.15" fill="#f8f8f8" stroke="#9a9a9a" stroke-width="0.35"/>
<line x1="85.65" y1="85.10" x2="92.05" y2="88.10" stroke="#a8a8a8" stroke-width="0.5" />
<line x1="85.65" y1="88.10" x2="92.05" y2="85.10" stroke="#a8a8a8" stroke-width="0.5" />
<circle cx="88.9" cy="86.6" r="1.15" fill="#f8f8f8" stroke="#9a9a9a" stroke-width="0.35"/>
<line x1="94.10" y1="59.50" x2="100.50" y2="62.50" stroke="#a8a8a8" stroke-width="0.5" />
<line x1="94.10" y1="62.50" x2="100.50" y2="59.50" stroke="#a8a8a8" stroke-width="0.5" />
<circle cx="97.3" cy="61.0" r="1.15" fill="#f8f8f8" stroke="#9a9a9a" stroke-width="0.35"/>
<line x1="95.80" y1="62.70" x2="102.20" y2="65.70" stroke="#a8a8a8" stroke-width="0.5" />
<line x1="95.80" y1="65.70" x2="102.20" y2="62.70" stroke="#a8a8a8" stroke-width="0.5" />
<circle cx="99.0" cy="64.2" r="1.15" fill="#f8f8f8" stroke="#9a9a9a" stroke-width="0.35"/>
<line x1="94.10" y1="65.90" x2="100.50" y2="68.90" stroke="#a8a8a8" stroke-width="0.5" />
<line x1="94.10" y1="68.90" x2="100.50" y2="65.90" stroke="#a8a8a8" stroke-width="0.5" />
<circle cx="97.3" cy="67.4" r="1.15" fill="#f8f8f8" stroke="#9a9a9a" stroke-width="0.35"/>
<line x1="95.80" y1="69.10" x2="102.20" y2="72.10" stroke="#a8a8a8" stroke-width="0.5" />
<line x1="95.80" y1="72.10" x2="102.20" y2="69.10" stroke="#a8a8a8" stroke-width="0.5" />
<circle cx="99.0" cy="70.6" r="1.15" fill="#f8f8f8" stroke="#9a9a9a" stroke-width="0.35"/>
<line x1="94.10" y1="72.30" x2="100.50" y2="75.30" stroke="#a8a8a8" stroke-width="0.5" />
<line x1="94.10" y1="75.30" x2="100.50" y2="72.30" stroke="#a8a8a8" stroke-width="0.5" />
<circle cx="97.3" cy="73.8" r="1.15" fill="#f8f8f8" stroke="#9a9a9a" stroke-width="0.35"/>
<line x1="95.80" y1="75.50" x2="102.20" y2="78.50" stroke="#a8a8a8" stroke-width="0.5" />
<line x1="95.80" y1="78.50" x2="102.20" y2="75.50" stroke="#a8a8a8" stroke-width="0.5" />
<circle cx="99.0" cy="77.0" r="1.15" fill="#f8f8f8" stroke="#9a9a9a" stroke-width="0.35"/>
<line x1="94.10" y1="78.70" x2="100.50" y2="81.70" stroke="#a8a8a8" stroke-width="0.5" />
<line x1="94.10" y1="81.70" x2="100.50" y2="78.70" stroke="#a8a8a8" stroke-width="0.5" />
<circle cx="97.3" cy="80.2" r="1.15" fill="#f8f8f8" stroke="#9a9a9a" stroke-width="0.35"/>
<line x1="95.80" y1="81.90" x2="102.20" y2="84.90" stroke="#a8a8a8" stroke-width="0.5" />
<line x1="95.80" y1="84.90" x2="102.20" y2="81.90" stroke="#a8a8a8" stroke-width="0.5" />
<circle cx="99.0" cy="83.4" r="1.15" fill="#f8f8f8" stroke="#9a9a9a" stroke-width="0.35"/>
<line x1="94.10" y1="85.10" x2="100.50" y2="88.10" stroke="#a8a8a8" stroke-width="0.5" />
<line x1="94.10" y1="88.10" x2="100.50" y2="85.10" stroke="#a8a8a8" stroke-width="0.5" />
<circle cx="97.3" cy="86.6" r="1.15" fill="#f8f8f8" stroke="#9a9a9a" stroke-width="0.35"/>
<line x1="102.55" y1="59.50" x2="108.95" y2="62.50" stroke="#a8a8a8" stroke-width="0.5" />
<line x1="102.55" y1="62.50" x2="108.95" y2="59.50" stroke="#a8a8a8" stroke-width="0.5" />
<circle cx="105.8" cy="61.0" r="1.15" fill="#f8f8f8" stroke="#9a9a9a" stroke-width="0.35"/>
<line x1="104.37" y1="62.70" x2="110.77" y2="65.70" stroke="#a8a8a8" stroke-width="0.5" />
<line x1="104.37" y1="65.70" x2="110.77" y2="62.70" stroke="#a8a8a8" stroke-width="0.5" />
<circle cx="107.6" cy="64.2" r="1.15" fill="#f8f8f8" stroke="#9a9a9a" stroke-width="0.35"/>
<line x1="102.79" y1="65.90" x2="109.19" y2="68.90" stroke="#a8a8a8" stroke-width="0.5" />
<line x1="102.79" y1="68.90" x2="109.19" y2="65.90" stroke="#a8a8a8" stroke-width="0.5" />
<circle cx="106.0" cy="67.4" r="1.15" fill="#f8f8f8" stroke="#9a9a9a" stroke-width="0.35"/>
<line x1="104.61" y1="69.10" x2="111.01" y2="72.10" stroke="#a8a8a8" stroke-width="0.5" />
<line x1="104.61" y1="72.10" x2="111.01" y2="69.10" stroke="#a8a8a8" stroke-width="0.5" />
<circle cx="107.8" cy="70.6" r="1.15" fill="#f8f8f8" stroke="#9a9a9a" stroke-width="0.35"/>
<line x1="103.03" y1="72.30" x2="109.43" y2="75.30" stroke="#a8a8a8" stroke-width="0.5" />
<line x1="103.03" y1="75.30" x2="109.43" y2="72.30" stroke="#a8a8a8" stroke-width="0.5" />
<circle cx="106.2" cy="73.8" r="1.15" fill="#f8f8f8" stroke="#9a9a9a" stroke-width="0.35"/>
<line x1="104.85" y1="75.50" x2="111.25" y2="78.50" stroke="#a8a8a8" stroke-width="0.5" />
<line x1="104.85" y1="78.50" x2="111.25" y2="75.50" stroke="#a8a8a8" stroke-width="0.5" />
<circle cx="108.0" cy="77.0" r="1.15" fill="#f8f8f8" stroke="#9a9a9a" stroke-width="0.35"/>
<line x1="103.27" y1="78.70" x2="109.67" y2="81.70" stroke="#a8a8a8" stroke-width="0.5" />
<line x1="103.27" y1="81.70" x2="109.67" y2="78.70" stroke="#a8a8a8" stroke-width="0.5" />
<circle cx="106.5" cy="80.2" r="1.15" fill="#f8f8f8" stroke="#9a9a9a" stroke-width="0.35"/>
<line x1="105.09" y1="81.90" x2="111.49" y2="84.90" stroke="#a8a8a8" stroke-width="0.5" />
<line x1="105.09" y1="84.90" x2="111.49" y2="81.90" stroke="#a8a8a8" stroke-width="0.5" />
<circle cx="108.3" cy="83.4" r="1.15" fill="#f8f8f8" stroke="#9a9a9a" stroke-width="0.35"/>
<line x1="103.51" y1="85.10" x2="109.91" y2="88.10" stroke="#a8a8a8" stroke-width="0.5" />
<line x1="103.51" y1="88.10" x2="109.91" y2="85.10" stroke="#a8a8a8" stroke-width="0.5" />
<circle cx="106.7" cy="86.6" r="1.15" fill="#f8f8f8" stroke="#9a9a9a" stroke-width="0.35"/>
<line x1="111.00" y1="59.50" x2="117.40" y2="62.50" stroke="#a8a8a8" stroke-width="0.5" />
<line x1="111.00" y1="62.50" x2="117.40" y2="59.50" stroke="#a8a8a8" stroke-width="0.5" />
<circle cx="114.2" cy="61.0" r="1.15" fill="#f8f8f8" stroke="#9a9a9a" stroke-width="0.35"/>
<line x1="113.24" y1="62.70" x2="119.64" y2="65.70" stroke="#a8a8a8" stroke-width="0.5" />
<line x1="113.24" y1="65.70" x2="119.64" y2="62.70" stroke="#a8a8a8" stroke-width="0.5" />
<circle cx="116.4" cy="64.2" r="1.15" fill="#f8f8f8" stroke="#9a9a9a" stroke-width="0.35"/>
<line x1="112.08" y1="65.90" x2="118.48" y2="68.90" stroke="#a8a8a8" stroke-width="0.5" />
<line x1="112.08" y1="68.90" x2="118.48" y2="65.90" stroke="#a8a8a8" stroke-width="0.5" />
<circle cx="115.3" cy="67.4" r="1.15" fill="#f8f8f8" stroke="#9a9a9a" stroke-width="0.35"/>
<line x1="114.33" y1="69.10" x2="120.73" y2="72.10" stroke="#a8a8a8" stroke-width="0.5" />
<line x1="114.33" y1="72.10" x2="120.73" y2="69.10" stroke="#a8a8a8" stroke-width="0.5" />
<circle cx="117.5" cy="70.6" r="1.15" fill="#f8f8f8" stroke="#9a9a9a" stroke-width="0.35"/>
<line x1="113.17" y1="72.30" x2="119.57" y2="75.30" stroke="#a8a8a8" stroke-width="0.5" />
<line x1="113.17" y1="75.30" x2="119.57" y2="72.30" stroke="#a8a8a8" stroke-width="0.5" />
<circle cx="116.4" cy="73.8" r="1.15" fill="#f8f8f8" stroke="#9a9a9a" stroke-width="0.35"/>
<line x1="115.41" y1="75.50" x2="121.81" y2="78.50" stroke="#a8a8a8" stroke-width="0.5" />
<line x1="115.41" y1="78.50" x2="121.81" y2="75.50" stroke="#a8a8a8" stroke-width="0.5" />
<circle cx="118.6" cy="77.0" r="1.15" fill="#f8f8f8" stroke="#9a9a9a" stroke-width="0.35"/>
<line x1="114.25" y1="78.70" x2="120.66" y2="81.70" stroke="#a8a8a8" stroke-width="0.5" />
<line x1="114.25" y1="81.70" x2="120.66" y2="78.70" stroke="#a8a8a8" stroke-width="0.5" />
<circle cx="117.5" cy="80.2" r="1.15" fill="#f8f8f8" stroke="#9a9a9a" stroke-width="0.35"/>
<line x1="116.50" y1="81.90" x2="122.90" y2="84.90" stroke="#a8a8a8" stroke-width="0.5" />
<line x1="116.50" y1="84.90" x2="122.90" y2="81.90" stroke="#a8a8a8" stroke-width="0.5" />
<circle cx="119.7" cy="83.4" r="1.15" fill="#f8f8f8" stroke="#9a9a9a" stroke-width="0.35"/>
<line x1="115.34" y1="85.10" x2="121.74" y2="88.10" stroke="#a8a8a8" stroke-width="0.5" />
<line x1="115.34" y1="88.10" x2="121.74" y2="85.10" stroke="#a8a8a8" stroke-width="0.5" />
<circle cx="118.5" cy="86.6" r="1.15" fill="#f8f8f8" stroke="#9a9a9a" stroke-width="0.35"/>
<line x1="117.58" y1="88.30" x2="123.98" y2="91.30" stroke="#a8a8a8" stroke-width="0.5" />
<line x1="117.58" y1="91.30" x2="123.98" y2="88.30" stroke="#a8a8a8" stroke-width="0.5" />
<circle cx="120.8" cy="89.8" r="1.15" fill="#f8f8f8" stroke="#9a9a9a" stroke-width="0.35"/>
<line x1="119.45" y1="59.50" x2="125.85" y2="62.50" stroke="#a8a8a8" stroke-width="0.5" />
<line x1="119.45" y1="62.50" x2="125.85" y2="59.50" stroke="#a8a8a8" stroke-width="0.5" />
<circle cx="122.7" cy="61.0" r="1.15" fill="#f8f8f8" stroke="#9a9a9a" stroke-width="0.35"/>
<line x1="122.11" y1="62.70" x2="128.51" y2="65.70" stroke="#a8a8a8" stroke-width="0.5" />
<line x1="122.11" y1="65.70" x2="128.51" y2="62.70" stroke="#a8a8a8" stroke-width="0.5" />
<circle cx="125.3" cy="64.2" r="1.15" fill="#f8f8f8" stroke="#9a9a9a" stroke-width="0.35"/>
<line x1="121.38" y1="65.90" x2="127.78" y2="68.90" stroke="#a8a8a8" stroke-width="0.5" />
<line x1="121.38" y1="68.90" x2="127.78" y2="65.90" stroke="#a8a8a8" stroke-width="0.5" />
<circle cx="124.6" cy="67.4" r="1.15" fill="#f8f8f8" stroke="#9a9a9a" stroke-width="0.35"/>
<line x1="124.04" y1="69.10" x2="130.44" y2="72.10" stroke="#a8a8a8" stroke-width="0.5" />
<line x1="124.04" y1="72.10" x2="130.44" y2="69.10" stroke="#a8a8a8" stroke-width="0.5" />
<circle cx="127.2" cy="70.6" r="1.15" fill="#f8f8f8" stroke="#9a9a9a" stroke-width="0.35"/>
<line x1="123.31" y1="72.30" x2="129.71" y2="75.30" stroke="#a8a8a8" stroke-width="0.5" />
<line x1="123.31" y1="75.30" x2="129.71" y2="72.30" stroke="#a8a8a8" stroke-width="0.5" />
<circle cx="126.5" cy="73.8" r="1.15" fill="#f8f8f8" stroke="#9a9a9a" stroke-width="0.35"/>
<line x1="125.97" y1="75.50" x2="132.37" y2="78.50" stroke="#a8a8a8" stroke-width="0.5" />
<line x1="125.97" y1="78.50" x2="132.37" y2="75.50" stroke="#a8a8a8" stroke-width="0.5" />
<circle cx="129.2" cy="77.0" r="1.15" fill="#f8f8f8" stroke="#9a9a9a" stroke-width="0.35"/>
<line x1="125.24" y1="78.70" x2="131.64" y2="81.70" stroke="#a8a8a8" stroke-width="0.5" />
<line x1="125.24" y1="81.70" x2="131.64" y2="78.70" stroke="#a8a8a8" stroke-width="0.5" />
<circle cx="128.4" cy="80.2" r="1.15" fill="#f8f8f8" stroke="#9a9a9a" stroke-width="0.35"/>
<line x1="127.90" y1="81.90" x2="134.30" y2="84.90" stroke="#a8a8a8" stroke-width="0.5" />
<line x1="127.90" y1="84.90" x2="134.30" y2="81.90" stroke="#a8a8a8" stroke-width="0.5" />
<circle cx="131.1" cy="83.4" r="1.15" fill="#f8f8f8" stroke="#9a9a9a" stroke-width="0.35"/>
<line x1="127.17" y1="85.10" x2="133.57" y2="88.10" stroke="#a8a8a8" stroke-width="0.5" />
<line x1="127.17" y1="88.10" x2="133.57" y2="85.10" stroke="#a8a8a8" stroke-width="0.5" />
<circle cx="130.4" cy="86.6" r="1.15" fill="#f8f8f8" stroke="#9a9a9a" stroke-width="0.35"/>
<line x1="129.84" y1="88.30" x2="136.23" y2="91.30" stroke="#a8a8a8" stroke-width="0.5" />
<line x1="129.84" y1="91.30" x2="136.23" y2="88.30" stroke="#a8a8a8" stroke-width="0.5" />
<circle cx="133.0" cy="89.8" r="1.15" fill="#f8f8f8" stroke="#9a9a9a" stroke-width="0.35"/>
<line x1="127.90" y1="59.50" x2="134.30" y2="62.50" stroke="#a8a8a8" stroke-width="0.5" />
<line x1="127.90" y1="62.50" x2="134.30" y2="59.50" stroke="#a8a8a8" stroke-width="0.5" />
<circle cx="131.1" cy="61.0" r="1.15" fill="#f8f8f8" stroke="#9a9a9a" stroke-width="0.35"/>
<line x1="130.99" y1="62.70" x2="137.39" y2="65.70" stroke="#a8a8a8" stroke-width="0.5" />
<line x1="130.99" y1="65.70" x2="137.39" y2="62.70" stroke="#a8a8a8" stroke-width="0.5" />
<circle cx="134.2" cy="64.2" r="1.15" fill="#f8f8f8" stroke="#9a9a9a" stroke-width="0.35"/>
<line x1="130.68" y1="65.90" x2="137.07" y2="68.90" stroke="#a8a8a8" stroke-width="0.5" />
<line x1="130.68" y1="68.90" x2="137.07" y2="65.90" stroke="#a8a8a8" stroke-width="0.5" />
<circle cx="133.9" cy="67.4" r="1.15" fill="#f8f8f8" stroke="#9a9a9a" stroke-width="0.35"/>
<line x1="133.76" y1="69.10" x2="140.16" y2="72.10" stroke="#a8a8a8" stroke-width="0.5" />
<line x1="133.76" y1="72.10" x2="140.16" y2="69.10" stroke="#a8a8a8" stroke-width="0.5" />
<circle cx="137.0" cy="70.6" r="1.15" fill="#f8f8f8" stroke="#9a9a9a" stroke-width="0.35"/>
<line x1="133.45" y1="72.30" x2="139.85" y2="75.30" stroke="#a8a8a8" stroke-width="0.5" />
<line x1="133.45" y1="75.30" x2="139.85" y2="72.30" stroke="#a8a8a8" stroke-width="0.5" />
<circle cx="136.7" cy="73.8" r="1.15" fill="#f8f8f8" stroke="#9a9a9a" stroke-width="0.35"/>
<line x1="136.54" y1="75.50" x2="142.94" y2="78.50" stroke="#a8a8a8" stroke-width="0.5" />
<line x1="136.54" y1="78.50" x2="142.94" y2="75.50" stroke="#a8a8a8" stroke-width="0.5" />
<circle cx="139.7" cy="77.0" r="1.15" fill="#f8f8f8" stroke="#9a9a9a" stroke-width="0.35"/>
<line x1="136.22" y1="78.70" x2="142.62" y2="81.70" stroke="#a8a8a8" stroke-width="0.5" />
<line x1="136.22" y1="81.70" x2="142.62" y2="78.70" stroke="#a8a8a8" stroke-width="0.5" />
<circle cx="139.4" cy="80.2" r="1.15" fill="#f8f8f8" stroke="#9a9a9a" stroke-width="0.35"/>
<line x1="139.31" y1="81.90" x2="145.71" y2="84.90" stroke="#a8a8a8" stroke-width="0.5" />
<line x1="139.31" y1="84.90" x2="145.71" y2="81.90" stroke="#a8a8a8" stroke-width="0.5" />
<circle cx="142.5" cy="83.4" r="1.15" fill="#f8f8f8" stroke="#9a9a9a" stroke-width="0.35"/>
<line x1="139.00" y1="85.10" x2="145.40" y2="88.10" stroke="#a8a8a8" stroke-width="0.5" />
<line x1="139.00" y1="88.10" x2="145.40" y2="85.10" stroke="#a8a8a8" stroke-width="0.5" />
<circle cx="142.2" cy="86.6" r="1.15" fill="#f8f8f8" stroke="#9a9a9a" stroke-width="0.35"/>
<line x1="142.09" y1="88.30" x2="148.49" y2="91.30" stroke="#a8a8a8" stroke-width="0.5" />
<line x1="142.09" y1="91.30" x2="148.49" y2="88.30" stroke="#a8a8a8" stroke-width="0.5" />
<circle cx="145.3" cy="89.8" r="1.15" fill="#f8f8f8" stroke="#9a9a9a" stroke-width="0.35"/>
<line x1="136.35" y1="59.50" x2="142.75" y2="62.50" stroke="#a8a8a8" stroke-width="0.5" />
<line x1="136.35" y1="62.50" x2="142.75" y2="59.50" stroke="#a8a8a8" stroke-width="0.5" />
<circle cx="139.5" cy="61.0" r="1.15" fill="#f8f8f8" stroke="#9a9a9a" stroke-width="0.35"/>
<line x1="139.55" y1="62.70" x2="145.95" y2="65.70" stroke="#a8a8a8" stroke-width="0.5" />
<line x1="139.55" y1="65.70" x2="145.95" y2="62.70" stroke="#a8a8a8" stroke-width="0.5" />
<circle cx="142.7" cy="64.2" r="1.15" fill="#f8f8f8" stroke="#9a9a9a" stroke-width="0.35"/>
<line x1="139.35" y1="65.90" x2="145.75" y2="68.90" stroke="#a8a8a8" stroke-width="0.5" />
<line x1="139.35" y1="68.90" x2="145.75" y2="65.90" stroke="#a8a8a8" stroke-width="0.5" />
<circle cx="142.5" cy="67.4" r="1.15" fill="#f8f8f8" stroke="#9a9a9a" stroke-width="0.35"/>
<line x1="142.55" y1="69.10" x2="148.95" y2="72.10" stroke="#a8a8a8" stroke-width="0.5" />
<line x1="142.55" y1="72.10" x2="148.95" y2="69.10" stroke="#a8a8a8" stroke-width="0.5" />
<circle cx="145.7" cy="70.6" r="1.15" fill="#f8f8f8" stroke="#9a9a9a" stroke-width="0.35"/>
<line x1="142.35" y1="72.30" x2="148.75" y2="75.30" stroke="#a8a8a8" stroke-width="0.5" />
<line x1="142.35" y1="75.30" x2="148.75" y2="72.30" stroke="#a8a8a8" stroke-width="0.5" />
<circle cx="145.5" cy="73.8" r="1.15" fill="#f8f8f8" stroke="#9a9a9a" stroke-width="0.35"/>
<line x1="145.55" y1="75.50" x2="151.95" y2="78.50" stroke="#a8a8a8" stroke-width="0.5" />
<line x1="145.55" y1="78.50" x2="151.95" y2="75.50" stroke="#a8a8a8" stroke-width="0.5" />
<circle cx="148.7" cy="77.0" r="1.15" fill="#f8f8f8" stroke="#9a9a9a" stroke-width="0.35"/>
<line x1="145.35" y1="78.70" x2="151.75" y2="81.70" stroke="#a8a8a8" stroke-width="0.5" />
<line x1="145.35" y1="81.70" x2="151.75" y2="78.70" stroke="#a8a8a8" stroke-width="0.5" />
<circle cx="148.5" cy="80.2" r="1.15" fill="#f8f8f8" stroke="#9a9a9a" stroke-width="0.35"/>
<line x1="148.55" y1="81.90" x2="154.95" y2="84.90" stroke="#a8a8a8" stroke-width="0.5" />
<line x1="148.55" y1="84.90" x2="154.95" y2="81.90" stroke="#a8a8a8" stroke-width="0.5" />
<circle cx="151.7" cy="83.4" r="1.15" fill="#f8f8f8" stroke="#9a9a9a" stroke-width="0.35"/>
<line x1="148.35" y1="85.10" x2="154.75" y2="88.10" stroke="#a8a8a8" stroke-width="0.5" />
<line x1="148.35" y1="88.10" x2="154.75" y2="85.10" stroke="#a8a8a8" stroke-width="0.5" />
<circle cx="151.5" cy="86.6" r="1.15" fill="#f8f8f8" stroke="#9a9a9a" stroke-width="0.35"/>
<line x1="151.55" y1="88.30" x2="157.95" y2="91.30" stroke="#a8a8a8" stroke-width="0.5" />
<line x1="151.55" y1="91.30" x2="157.95" y2="88.30" stroke="#a8a8a8" stroke-width="0.5" />
<circle cx="154.7" cy="89.8" r="1.15" fill="#f8f8f8" stroke="#9a9a9a" stroke-width="0.35"/>
<line x1="144.80" y1="59.50" x2="151.20" y2="62.50" stroke="#a8a8a8" stroke-width="0.5" />
<line x1="144.80" y1="62.50" x2="151.20" y2="59.50" stroke="#a8a8a8" stroke-width="0.5" />
<circle cx="148.0" cy="61.0" r="1.15" fill="#f8f8f8" stroke="#9a9a9a" stroke-width="0.35"/>
<line x1="148.00" y1="62.70" x2="154.40" y2="65.70" stroke="#a8a8a8" stroke-width="0.5" />
<line x1="148.00" y1="65.70" x2="154.40" y2="62.70" stroke="#a8a8a8" stroke-width="0.5" />
<circle cx="151.2" cy="64.2" r="1.15" fill="#f8f8f8" stroke="#9a9a9a" stroke-width="0.35"/>
<line x1="147.80" y1="65.90" x2="154.20" y2="68.90" stroke="#a8a8a8" stroke-width="0.5" />
<line x1="147.80" y1="68.90" x2="154.20" y2="65.90" stroke="#a8a8a8" stroke-width="0.5" />
<circle cx="151.0" cy="67.4" r="1.15" fill="#f8f8f8" stroke="#9a9a9a" stroke-width="0.35"/>
<line x1="151.00" y1="69.10" x2="157.40" y2="72.10" stroke="#a8a8a8" stroke-width="0.5" />
<line x1="151.00" y1="72.10" x2="157.40" y2="69.10" stroke="#a8a8a8" stroke-width="0.5" />
<circle cx="154.2" cy="70.6" r="1.15" fill="#f8f8f8" stroke="#9a9a9a" stroke-width="0.35"/>
<line x1="150.80" y1="72.30" x2="157.20" y2="75.30" stroke="#a8a8a8" stroke-width="0.5" />
<line x1="150.80" y1="75.30" x2="157.20" y2="72.30" stroke="#a8a8a8" stroke-width="0.5" />
<circle cx="154.0" cy="73.8" r="1.15" fill="#f8f8f8" stroke="#9a9a9a" stroke-width="0.35"/>
<line x1="154.00" y1="75.50" x2="160.40" y2="78.50" stroke="#a8a8a8" stroke-width="0.5" />
<line x1="154.00" y1="78.50" x2="160.40" y2="75.50" stroke="#a8a8a8" stroke-width="0.5" />
<circle cx="157.2" cy="77.0" r="1.15" fill="#f8f8f8" stroke="#9a9a9a" stroke-width="0.35"/>
<line x1="153.80" y1="78.70" x2="160.20" y2="81.70" stroke="#a8a8a8" stroke-width="0.5" />
<line x1="153.80" y1="81.70" x2="160.20" y2="78.70" stroke="#a8a8a8" stroke-width="0.5" />
<circle cx="157.0" cy="80.2" r="1.15" fill="#f8f8f8" stroke="#9a9a9a" stroke-width="0.35"/>
<line x1="156.80" y1="85.10" x2="163.20" y2="88.10" stroke="#a8a8a8" stroke-width="0.5" />
<line x1="156.80" y1="88.10" x2="163.20" y2="85.10" stroke="#a8a8a8" stroke-width="0.5" />
<circle cx="160.0" cy="86.6" r="1.15" fill="#f8f8f8" stroke="#9a9a9a" stroke-width="0.35"/>
<line x1="156.25" y1="71.22" x2="162.65" y2="74.22" stroke="#a8a8a8" stroke-width="0.5" />
<line x1="156.25" y1="74.22" x2="162.65" y2="71.22" stroke="#a8a8a8" stroke-width="0.5" />
<circle cx="159.4" cy="72.7" r="1.15" fill="#f8f8f8" stroke="#9a9a9a" stroke-width="0.35"/>
<circle cx="52.6" cy="69.2" r="1.45" fill="#808e80" stroke="#8a4a8a" stroke-width="0.35"/>
<circle cx="50.9" cy="72.4" r="1.45" fill="#e27ad8" stroke="#8a4a8a" stroke-width="0.35"/>
<circle cx="52.6" cy="75.6" r="1.45" fill="#e27ad8" stroke="#8a4a8a" stroke-width="0.35"/>
<circle cx="50.9" cy="78.8" r="1.45" fill="#e27ad8" stroke="#8a4a8a" stroke-width="0.35"/>
<circle cx="52.6" cy="82.0" r="1.45" fill="#e27ad8" stroke="#8a4a8a" stroke-width="0.35"/>
<circle cx="50.9" cy="85.2" r="1.45" fill="#e27ad8" stroke="#8a4a8a" stroke-width="0.35"/>
<circle cx="52.6" cy="88.4" r="1.45" fill="#e27ad8" stroke="#8a4a8a" stroke-width="0.35"/>
<circle cx="59.3" cy="66.0" r="1.45" fill="#808e80" stroke="#8a4a8a" stroke-width="0.35"/>
<circle cx="61.0" cy="69.2" r="1.45" fill="#e27ad8" stroke="#8a4a8a" stroke-width="0.35"/>
<circle cx="59.3" cy="72.4" r="1.45" fill="#e27ad8" stroke="#8a4a8a" stroke-width="0.35"/>
<circle cx="61.0" cy="75.6" r="1.45" fill="#e27ad8" stroke="#8a4a8a" stroke-width="0.35"/>
<circle cx="59.3" cy="78.8" r="1.45" fill="#e27ad8" stroke="#8a4a8a" stroke-width="0.35"/>
<circle cx="61.0" cy="82.0" r="1.45" fill="#e27ad8" stroke="#8a4a8a" stroke-width="0.35"/>
<circle cx="59.3" cy="85.2" r="1.45" fill="#e27ad8" stroke="#8a4a8a" stroke-width="0.35"/>
<circle cx="61.0" cy="88.4" r="1.45" fill="#e27ad8" stroke="#8a4a8a" stroke-width="0.35"/>
<circle cx="69.4" cy="62.8" r="1.45" fill="#808e80" stroke="#8a4a8a" stroke-width="0.35"/>
<circle cx="67.8" cy="66.0" r="1.45" fill="#e27ad8" stroke="#8a4a8a" stroke-width="0.35"/>
<circle cx="69.4" cy="69.2" r="1.45" fill="#e27ad8" stroke="#8a4a8a" stroke-width="0.35"/>
<circle cx="67.8" cy="72.4" r="1.45" fill="#e27ad8" stroke="#8a4a8a" stroke-width="0.35"/>
<circle cx="69.4" cy="75.6" r="1.45" fill="#e27ad8" stroke="#8a4a8a" stroke-width="0.35"/>
<circle cx="67.8" cy="78.8" r="1.45" fill="#e27ad8" stroke="#8a4a8a" stroke-width="0.35"/>
<circle cx="69.4" cy="82.0" r="1.45" fill="#e27ad8" stroke="#8a4a8a" stroke-width="0.35"/>
<circle cx="67.8" cy="85.2" r="1.45" fill="#e27ad8" stroke="#8a4a8a" stroke-width="0.35"/>
<circle cx="69.4" cy="88.4" r="1.45" fill="#e27ad8" stroke="#8a4a8a" stroke-width="0.35"/>
<circle cx="77.9" cy="62.8" r="1.45" fill="#808e80" stroke="#8a4a8a" stroke-width="0.35"/>
<circle cx="76.2" cy="66.0" r="1.45" fill="#e27ad8" stroke="#8a4a8a" stroke-width="0.35"/>
<circle cx="77.9" cy="69.2" r="1.45" fill="#e27ad8" stroke="#8a4a8a" stroke-width="0.35"/>
<circle cx="76.2" cy="72.4" r="1.45" fill="#e27ad8" stroke="#8a4a8a" stroke-width="0.35"/>
<circle cx="77.9" cy="75.6" r="1.45" fill="#e27ad8" stroke="#8a4a8a" stroke-width="0.35"/>
<circle cx="76.2" cy="78.8" r="1.45" fill="#e27ad8" stroke="#8a4a8a" stroke-width="0.35"/>
<circle cx="77.9" cy="82.0" r="1.45" fill="#e27ad8" stroke="#8a4a8a" stroke-width="0.35"/>
<circle cx="76.2" cy="85.2" r="1.45" fill="#e27ad8" stroke="#8a4a8a" stroke-width="0.35"/>
<circle cx="77.9" cy="88.4" r="1.45" fill="#e27ad8" stroke="#8a4a8a" stroke-width="0.35"/>
<circle cx="84.7" cy="59.6" r="1.75" fill="#22b43c" stroke="#0e7a24" stroke-width="0.35"/>
<circle cx="86.3" cy="62.8" r="1.75" fill="#22b43c" stroke="#0e7a24" stroke-width="0.35"/>
<circle cx="84.7" cy="66.0" r="1.75" fill="#22b43c" stroke="#0e7a24" stroke-width="0.35"/>
<circle cx="86.3" cy="69.2" r="1.75" fill="#22b43c" stroke="#0e7a24" stroke-width="0.35"/>
<circle cx="84.7" cy="72.4" r="1.75" fill="#22b43c" stroke="#0e7a24" stroke-width="0.35"/>
<circle cx="86.3" cy="75.6" r="1.75" fill="#22b43c" stroke="#0e7a24" stroke-width="0.35"/>
<circle cx="84.7" cy="78.8" r="1.75" fill="#22b43c" stroke="#0e7a24" stroke-width="0.35"/>
<circle cx="86.3" cy="82.0" r="1.75" fill="#22b43c" stroke="#0e7a24" stroke-width="0.35"/>
<circle cx="84.7" cy="85.2" r="1.75" fill="#22b43c" stroke="#0e7a24" stroke-width="0.35"/>
<circle cx="86.3" cy="88.4" r="1.75" fill="#22b43c" stroke="#0e7a24" stroke-width="0.35"/>
<circle cx="93.1" cy="59.6" r="1.75" fill="#22b43c" stroke="#0e7a24" stroke-width="0.35"/>
<circle cx="94.8" cy="62.8" r="1.75" fill="#22b43c" stroke="#0e7a24" stroke-width="0.35"/>
<circle cx="93.1" cy="66.0" r="1.75" fill="#22b43c" stroke="#0e7a24" stroke-width="0.35"/>
<circle cx="94.8" cy="69.2" r="1.75" fill="#22b43c" stroke="#0e7a24" stroke-width="0.35"/>
<circle cx="93.1" cy="72.4" r="1.75" fill="#22b43c" stroke="#0e7a24" stroke-width="0.35"/>
<circle cx="94.8" cy="75.6" r="1.75" fill="#22b43c" stroke="#0e7a24" stroke-width="0.35"/>
<circle cx="93.1" cy="78.8" r="1.75" fill="#22b43c" stroke="#0e7a24" stroke-width="0.35"/>
<circle cx="94.8" cy="82.0" r="1.75" fill="#22b43c" stroke="#0e7a24" stroke-width="0.35"/>
<circle cx="93.1" cy="85.2" r="1.75" fill="#22b43c" stroke="#0e7a24" stroke-width="0.35"/>
<circle cx="94.8" cy="88.4" r="1.75" fill="#22b43c" stroke="#0e7a24" stroke-width="0.35"/>
<circle cx="101.6" cy="59.6" r="1.75" fill="#22b43c" stroke="#0e7a24" stroke-width="0.35"/>
<circle cx="103.4" cy="62.8" r="1.75" fill="#22b43c" stroke="#0e7a24" stroke-width="0.35"/>
<circle cx="101.8" cy="66.0" r="1.75" fill="#22b43c" stroke="#0e7a24" stroke-width="0.35"/>
<circle cx="103.6" cy="69.2" r="1.75" fill="#22b43c" stroke="#0e7a24" stroke-width="0.35"/>
<circle cx="102.0" cy="72.4" r="1.75" fill="#22b43c" stroke="#0e7a24" stroke-width="0.35"/>
<circle cx="103.8" cy="75.6" r="1.75" fill="#22b43c" stroke="#0e7a24" stroke-width="0.35"/>
<circle cx="102.3" cy="78.8" r="1.75" fill="#22b43c" stroke="#0e7a24" stroke-width="0.35"/>
<circle cx="104.1" cy="82.0" r="1.75" fill="#22b43c" stroke="#0e7a24" stroke-width="0.35"/>
<circle cx="102.5" cy="85.2" r="1.75" fill="#22b43c" stroke="#0e7a24" stroke-width="0.35"/>
<circle cx="104.3" cy="88.4" r="1.75" fill="#22b43c" stroke="#0e7a24" stroke-width="0.35"/>
<circle cx="110.0" cy="59.6" r="1.75" fill="#22b43c" stroke="#0e7a24" stroke-width="0.35"/>
<circle cx="112.2" cy="62.8" r="1.75" fill="#22b43c" stroke="#0e7a24" stroke-width="0.35"/>
<circle cx="111.1" cy="66.0" r="1.75" fill="#22b43c" stroke="#0e7a24" stroke-width="0.35"/>
<circle cx="113.3" cy="69.2" r="1.75" fill="#22b43c" stroke="#0e7a24" stroke-width="0.35"/>
<circle cx="112.2" cy="72.4" r="1.75" fill="#22b43c" stroke="#0e7a24" stroke-width="0.35"/>
<circle cx="114.4" cy="75.6" r="1.75" fill="#22b43c" stroke="#0e7a24" stroke-width="0.35"/>
<circle cx="113.3" cy="78.8" r="1.75" fill="#22b43c" stroke="#0e7a24" stroke-width="0.35"/>
<circle cx="115.5" cy="82.0" r="1.75" fill="#22b43c" stroke="#0e7a24" stroke-width="0.35"/>
<circle cx="114.3" cy="85.2" r="1.75" fill="#22b43c" stroke="#0e7a24" stroke-width="0.35"/>
<circle cx="116.6" cy="88.4" r="1.75" fill="#22b43c" stroke="#0e7a24" stroke-width="0.35"/>
<circle cx="118.5" cy="59.6" r="1.75" fill="#22b43c" stroke="#0e7a24" stroke-width="0.35"/>
<circle cx="121.1" cy="62.8" r="1.75" fill="#22b43c" stroke="#0e7a24" stroke-width="0.35"/>
<circle cx="120.4" cy="66.0" r="1.75" fill="#22b43c" stroke="#0e7a24" stroke-width="0.35"/>
<circle cx="123.0" cy="69.2" r="1.75" fill="#22b43c" stroke="#0e7a24" stroke-width="0.35"/>
<circle cx="122.3" cy="72.4" r="1.75" fill="#22b43c" stroke="#0e7a24" stroke-width="0.35"/>
<circle cx="125.0" cy="75.6" r="1.75" fill="#22b43c" stroke="#0e7a24" stroke-width="0.35"/>
<circle cx="124.2" cy="78.8" r="1.75" fill="#22b43c" stroke="#0e7a24" stroke-width="0.35"/>
<circle cx="126.9" cy="82.0" r="1.75" fill="#22b43c" stroke="#0e7a24" stroke-width="0.35"/>
<circle cx="126.2" cy="85.2" r="1.75" fill="#22b43c" stroke="#0e7a24" stroke-width="0.35"/>
<circle cx="128.8" cy="88.4" r="1.75" fill="#22b43c" stroke="#0e7a24" stroke-width="0.35"/>
<circle cx="126.9" cy="59.6" r="1.75" fill="#22b43c" stroke="#0e7a24" stroke-width="0.35"/>
<circle cx="130.0" cy="62.8" r="1.75" fill="#22b43c" stroke="#0e7a24" stroke-width="0.35"/>
<circle cx="129.7" cy="66.0" r="1.75" fill="#22b43c" stroke="#0e7a24" stroke-width="0.35"/>
<circle cx="132.8" cy="69.2" r="1.75" fill="#22b43c" stroke="#0e7a24" stroke-width="0.35"/>
<circle cx="132.5" cy="72.4" r="1.75" fill="#22b43c" stroke="#0e7a24" stroke-width="0.35"/>
<circle cx="135.5" cy="75.6" r="1.75" fill="#22b43c" stroke="#0e7a24" stroke-width="0.35"/>
<circle cx="135.2" cy="78.8" r="1.75" fill="#22b43c" stroke="#0e7a24" stroke-width="0.35"/>
<circle cx="138.3" cy="82.0" r="1.75" fill="#22b43c" stroke="#0e7a24" stroke-width="0.35"/>
<circle cx="138.0" cy="85.2" r="1.75" fill="#22b43c" stroke="#0e7a24" stroke-width="0.35"/>
<circle cx="141.1" cy="88.4" r="1.75" fill="#22b43c" stroke="#0e7a24" stroke-width="0.35"/>
<circle cx="140.8" cy="91.6" r="1.75" fill="#22b43c" stroke="#0e7a24" stroke-width="0.35"/>
<circle cx="135.3" cy="59.6" r="1.75" fill="#22b43c" stroke="#0e7a24" stroke-width="0.35"/>
<circle cx="138.5" cy="62.8" r="1.75" fill="#22b43c" stroke="#0e7a24" stroke-width="0.35"/>
<circle cx="138.3" cy="66.0" r="1.75" fill="#22b43c" stroke="#0e7a24" stroke-width="0.35"/>
<circle cx="141.5" cy="69.2" r="1.75" fill="#22b43c" stroke="#0e7a24" stroke-width="0.35"/>
<circle cx="141.3" cy="72.4" r="1.75" fill="#22b43c" stroke="#0e7a24" stroke-width="0.35"/>
<circle cx="144.5" cy="75.6" r="1.75" fill="#22b43c" stroke="#0e7a24" stroke-width="0.35"/>
<circle cx="144.3" cy="78.8" r="1.75" fill="#22b43c" stroke="#0e7a24" stroke-width="0.35"/>
<circle cx="147.5" cy="82.0" r="1.75" fill="#22b43c" stroke="#0e7a24" stroke-width="0.35"/>
<circle cx="147.3" cy="85.2" r="1.75" fill="#22b43c" stroke="#0e7a24" stroke-width="0.35"/>
<circle cx="150.5" cy="88.4" r="1.75" fill="#22b43c" stroke="#0e7a24" stroke-width="0.35"/>
<circle cx="150.3" cy="91.6" r="1.75" fill="#22b43c" stroke="#0e7a24" stroke-width="0.35"/>
<circle cx="143.8" cy="59.6" r="1.75" fill="#22b43c" stroke="#0e7a24" stroke-width="0.35"/>
<circle cx="147.0" cy="62.8" r="1.75" fill="#22b43c" stroke="#0e7a24" stroke-width="0.35"/>
<circle cx="146.8" cy="66.0" r="1.75" fill="#22b43c" stroke="#0e7a24" stroke-width="0.35"/>
<circle cx="150.0" cy="69.2" r="1.75" fill="#22b43c" stroke="#0e7a24" stroke-width="0.35"/>
<circle cx="149.8" cy="72.4" r="1.75" fill="#22b43c" stroke="#0e7a24" stroke-width="0.35"/>
<circle cx="153.0" cy="75.6" r="1.75" fill="#22b43c" stroke="#0e7a24" stroke-width="0.35"/>
<circle cx="152.8" cy="78.8" r="1.75" fill="#22b43c" stroke="#0e7a24" stroke-width="0.35"/>
<circle cx="156.0" cy="82.0" r="1.75" fill="#22b43c" stroke="#0e7a24" stroke-width="0.35"/>
<circle cx="155.8" cy="85.2" r="1.75" fill="#22b43c" stroke="#0e7a24" stroke-width="0.35"/>
<circle cx="159.0" cy="88.4" r="1.75" fill="#22b43c" stroke="#0e7a24" stroke-width="0.35"/>
<circle cx="158.8" cy="91.6" r="1.75" fill="#22b43c" stroke="#0e7a24" stroke-width="0.35"/>
<circle cx="152.2" cy="64.9" r="1.75" fill="#22b43c" stroke="#0e7a24" stroke-width="0.35"/>
<circle cx="155.4" cy="68.1" r="1.75" fill="#22b43c" stroke="#0e7a24" stroke-width="0.35"/>
<circle cx="155.2" cy="71.3" r="1.75" fill="#22b43c" stroke="#0e7a24" stroke-width="0.35"/>
<circle cx="158.4" cy="74.5" r="1.75" fill="#22b43c" stroke="#0e7a24" stroke-width="0.35"/>
<circle cx="158.2" cy="77.7" r="1.75" fill="#22b43c" stroke="#0e7a24" stroke-width="0.35"/>
<circle cx="160.7" cy="71.3" r="1.75" fill="#22b43c" stroke="#0e7a24" stroke-width="0.35"/>
<circle cx="157.0" cy="76.0" r="1.7" fill="#1fb43a" stroke="#0c7a22" stroke-width="0.35"/>
<circle cx="155.5" cy="83.0" r="1.7" fill="#1fb43a" stroke="#0c7a22" stroke-width="0.35"/>
<circle cx="157.5" cy="89.5" r="1.7" fill="#1fb43a" stroke="#0c7a22" stroke-width="0.35"/>
<ellipse cx="66" cy="78" rx="12" ry="16" fill="#f070e8" opacity="0.35" filter="url(#ablur)"/>
<path d="M28.6,87 A10.1,7.3 0 0 1 48.8,87 A10.1,1.8 0 0 1 28.6,87 Z" fill="url(#adome)" stroke="#c8c8c8" stroke-width="0.3"/>
<path d="M72,98 C64,103 52,103 46,97 C43,94 41,91 40,89.5" fill="none" stroke="#f0b430" stroke-width="1.8"/>
<polygon points="37.80,86.60 42.80,88.60 39.60,91.40" fill="#f0b430" stroke="none" stroke-width="1" />
<path d="M81.6,86.3 C82.5,78 88,70 97,66.8 C101,65.6 105,65.8 108.5,66.3" fill="none" stroke="#f0b430" stroke-width="1.8"/>
<polygon points="111.80,66.60 107.50,63.50 107.30,69.30" fill="#f0b430" stroke="none" stroke-width="1" />
<circle cx="73.8" cy="95.9" r="3.6" fill="#111"/>
<text x="73.80" y="97.80" font-size="5.5" font-weight="bold" text-anchor="middle" fill="#fff" >e</text>
<circle cx="80.9" cy="89.5" r="3.6" fill="#e07a1c"/>
<text x="80.90" y="91.50" font-size="5.5" font-weight="bold" text-anchor="middle" fill="#fff" >h</text>
</g>
<text x="19.40" y="79.00" font-size="12" font-weight="normal" text-anchor="start" fill="#111" >Ag</text>
<text x="117.50" y="52.00" font-size="12" font-weight="normal" text-anchor="start" fill="#111" >CuI</text>
<text x="131.80" y="109.90" font-size="12" font-weight="normal" text-anchor="start" fill="#111" >Si</text>
<defs>
<linearGradient id="fcone" x1="0" y1="0" x2="1" y2="0.3">
<stop offset="0" stop-color="#f5bec5"/><stop offset="0.45" stop-color="#f9d3d7"/><stop offset="1" stop-color="#fce4e6"/>
</linearGradient>
<linearGradient id="fpet" x1="0" y1="0" x2="1" y2="1">
<stop offset="0" stop-color="#a2b9d6"/><stop offset="1" stop-color="#94adcc"/>
</linearGradient>
</defs>
<path d="M37.8,317.9 L25.3,384 C28,387 38,386.5 50,383 C64,379 78,373 84.7,366.2 Z" fill="url(#fcone)" opacity="0.95"/>
<polygon points="17.00,400.70 70.00,375.30 104.00,376.60 97.00,392.00 34.00,402.60" fill="#d5d5d5" stroke="none" stroke-width="1" opacity="0.92"/>
<polygon points="13.50,428.50 69.20,389.20 123.30,400.50 67.60,439.80" fill="url(#fpet)" stroke="none" stroke-width="1" />
<polygon points="13.50,428.50 67.60,439.80 67.60,441.20 13.50,429.90" fill="#7d96b6" stroke="none" stroke-width="1" />
<polygon points="67.60,439.80 123.30,400.50 123.30,401.90 67.60,441.20" fill="#879fbe" stroke="none" stroke-width="1" />
<line x1="17.30" y1="414.20" x2="69.50" y2="387.00" stroke="#a6a682" stroke-width="2.7" stroke-linecap="round"/>
<line x1="17.30" y1="413.85" x2="69.50" y2="386.65" stroke="#e0e0b8" stroke-width="1.2" stroke-linecap="round"/>
<line x1="68.50" y1="387.60" x2="106.91" y2="391.44" stroke="#a6a682" stroke-width="3.0999999999999996" stroke-linecap="round"/>
<line x1="68.50" y1="387.25" x2="106.91" y2="391.09" stroke="#e0e0b8" stroke-width="1.5999999999999999" stroke-linecap="round"/>
<line x1="68.50" y1="391.10" x2="101.83" y2="394.43" stroke="#a6a682" stroke-width="3.0999999999999996" stroke-linecap="round"/>
<line x1="68.50" y1="390.75" x2="101.83" y2="394.08" stroke="#e0e0b8" stroke-width="1.5999999999999999" stroke-linecap="round"/>
<line x1="58.70" y1="393.30" x2="97.21" y2="397.15" stroke="#a6a682" stroke-width="3.0999999999999996" stroke-linecap="round"/>
<line x1="58.70" y1="392.95" x2="97.21" y2="396.80" stroke="#e0e0b8" stroke-width="1.5999999999999999" stroke-linecap="round"/>
<line x1="58.70" y1="397.10" x2="91.70" y2="400.40" stroke="#a6a682" stroke-width="3.0999999999999996" stroke-linecap="round"/>
<line x1="58.70" y1="396.75" x2="91.70" y2="400.05" stroke="#e0e0b8" stroke-width="1.5999999999999999" stroke-linecap="round"/>
<line x1="47.80" y1="399.30" x2="86.92" y2="403.21" stroke="#a6a682" stroke-width="3.0999999999999996" stroke-linecap="round"/>
<line x1="47.80" y1="398.95" x2="86.92" y2="402.86" stroke="#e0e0b8" stroke-width="1.5999999999999999" stroke-linecap="round"/>
<line x1="47.80" y1="403.10" x2="81.41" y2="406.46" stroke="#a6a682" stroke-width="3.0999999999999996" stroke-linecap="round"/>
<line x1="47.80" y1="402.75" x2="81.41" y2="406.11" stroke="#e0e0b8" stroke-width="1.5999999999999999" stroke-linecap="round"/>
<line x1="36.90" y1="405.30" x2="76.63" y2="409.27" stroke="#a6a682" stroke-width="3.0999999999999996" stroke-linecap="round"/>
<line x1="36.90" y1="404.95" x2="76.63" y2="408.92" stroke="#e0e0b8" stroke-width="1.5999999999999999" stroke-linecap="round"/>
<line x1="36.90" y1="409.10" x2="71.12" y2="412.52" stroke="#a6a682" stroke-width="3.0999999999999996" stroke-linecap="round"/>
<line x1="36.90" y1="408.75" x2="71.12" y2="412.17" stroke="#e0e0b8" stroke-width="1.5999999999999999" stroke-linecap="round"/>
<line x1="26.00" y1="411.30" x2="66.34" y2="415.33" stroke="#a6a682" stroke-width="3.0999999999999996" stroke-linecap="round"/>
<line x1="26.00" y1="410.95" x2="66.34" y2="414.98" stroke="#e0e0b8" stroke-width="1.5999999999999999" stroke-linecap="round"/>
<line x1="26.00" y1="415.10" x2="60.83" y2="418.58" stroke="#a6a682" stroke-width="3.0999999999999996" stroke-linecap="round"/>
<line x1="26.00" y1="414.75" x2="60.83" y2="418.23" stroke="#e0e0b8" stroke-width="1.5999999999999999" stroke-linecap="round"/>
<line x1="59.10" y1="420.60" x2="110.20" y2="390.50" stroke="#a6a682" stroke-width="3.4000000000000004" stroke-linecap="round"/>
<line x1="59.10" y1="420.25" x2="110.20" y2="390.15" stroke="#e0e0b8" stroke-width="1.9000000000000001" stroke-linecap="round"/>
<polygon points="67.90,331.70 68.95,331.24 70.00,330.78 71.05,330.31 72.10,329.85 73.15,329.39 74.20,328.93 75.25,328.47 76.30,328.01 77.35,327.55 78.40,327.08 79.45,326.62 80.50,326.16 81.55,325.70 82.60,325.24 83.65,324.77 84.70,324.31 85.75,323.85 86.80,323.39 87.85,322.93 88.90,322.47 89.95,322.00 91.00,321.54 92.05,321.08 93.10,320.62 94.15,320.16 95.20,319.70 96.25,319.24 97.30,318.77 98.35,318.31 99.40,317.85 100.45,317.39 101.50,316.93 102.55,316.47 103.60,316.00 104.65,315.54 105.70,315.08 106.75,314.62 107.80,314.16 108.85,313.69 109.90,313.23 110.95,312.77 112.00,312.31 113.05,311.85 114.10,311.39 115.15,310.93 116.20,310.46 117.25,310.00 118.30,309.54 119.35,309.08 120.40,308.62 121.45,308.15 122.50,307.69 123.55,307.23 124.60,306.77 125.65,306.31 126.70,305.85 127.75,305.39 128.80,304.92 129.85,304.46 130.90,304.00 130.90,304.00 131.88,303.79 132.87,303.61 133.86,303.50 134.84,303.49 135.82,303.60 136.81,303.85 137.79,304.25 138.78,304.81 139.76,305.51 140.75,306.34 141.74,307.29 142.72,308.33 143.71,309.43 144.69,310.54 145.68,311.65 146.66,312.70 147.64,313.68 148.63,314.55 149.62,315.29 150.60,315.88 151.59,316.33 152.57,316.62 153.56,316.77 154.54,316.79 155.52,316.70 156.51,316.54 157.50,316.33 158.48,316.12 159.46,315.93 160.45,315.80 161.44,315.75 162.42,315.83 163.41,316.04 164.39,316.40 165.38,316.91 166.36,317.58 167.34,318.38 168.33,319.30 169.31,320.32 170.30,321.40 171.29,322.51 172.27,323.62 173.25,324.69 174.24,325.69 175.22,326.60 176.21,327.37 177.20,328.01 178.18,328.49 179.16,328.83 180.15,329.01 181.13,329.06 182.12,329.00 183.10,328.86 184.09,328.66 185.07,328.45 186.06,328.25 187.05,328.10 188.03,328.03 189.01,328.07 190.00,328.24 190.00,328.24 188.91,329.11 187.83,329.98 186.74,330.85 185.65,331.72 184.57,332.59 183.48,333.46 182.39,334.33 181.31,335.20 180.22,336.07 179.13,336.94 178.05,337.81 176.96,338.68 175.87,339.55 174.79,340.42 173.70,341.29 172.61,342.16 171.53,343.03 170.44,343.90 169.35,344.77 168.27,345.64 167.18,346.51 166.09,347.38 165.01,348.25 163.92,349.12 162.83,349.99 161.75,350.86 160.66,351.73 159.57,352.60 158.49,353.47 157.40,354.34 156.31,355.21 155.23,356.08 154.14,356.95 153.05,357.82 151.97,358.69 150.88,359.56 149.79,360.43 148.71,361.30 147.62,362.17 146.53,363.04 145.45,363.91 144.36,364.78 143.27,365.65 142.19,366.52 141.10,367.39 140.01,368.26 138.93,369.13 137.84,370.00 136.75,370.87 135.67,371.74 134.58,372.61 133.49,373.48 132.41,374.35 131.32,375.22 130.23,376.09 129.15,376.96 128.06,377.83 126.97,378.70 125.89,379.57 124.80,380.44 124.80,380.44 123.85,379.86 122.90,379.41 121.95,379.07 121.01,378.81 120.06,378.61 119.11,378.41 118.16,378.20 117.21,377.94 116.27,377.59 115.32,377.13 114.37,376.53 113.42,375.79 112.47,374.90 111.52,373.86 110.57,372.67 109.63,371.36 108.68,369.95 107.73,368.47 106.78,366.95 105.83,365.43 104.89,363.94 103.94,362.52 102.99,361.19 102.04,359.98 101.09,358.91 100.14,357.98 99.19,357.22 98.25,356.60 97.30,356.11 96.35,355.75 95.40,355.47 94.45,355.25 93.50,355.06 92.56,354.85 91.61,354.61 90.66,354.29 89.71,353.86 88.76,353.30 87.81,352.60 86.87,351.75 85.92,350.75 84.97,349.60 84.02,348.32 83.07,346.94 82.12,345.47 81.18,343.96 80.23,342.43 79.28,340.93 78.33,339.49 77.38,338.13 76.44,336.88 75.49,335.77 74.54,334.81 73.59,334.00 72.64,333.34 71.69,332.82 70.75,332.43 69.80,332.13 68.85,331.90 67.90,331.70" fill="#5e82d0" stroke="#4a6cba" stroke-width="0.7" />
<polygon points="73.83,330.96 74.76,331.32 75.69,331.80 76.62,332.40 77.54,333.15 77.54,333.15 78.54,332.67 79.54,332.19 80.54,331.71 81.54,331.22 81.54,331.22 80.61,330.50 79.68,329.92 78.75,329.47 77.82,329.14 77.82,329.14 76.83,329.59 75.83,330.05 74.83,330.51 73.83,330.96" fill="#aeb3b4" stroke="none" stroke-width="1" />
<polygon points="79.70,328.28 80.63,328.60 81.56,329.04 82.50,329.60 83.43,330.32 83.43,330.32 84.43,329.83 85.43,329.35 86.43,328.87 87.43,328.39 87.43,328.39 86.49,327.70 85.56,327.16 84.63,326.75 83.69,326.45 83.69,326.45 82.70,326.91 81.70,327.36 80.70,327.82 79.70,328.28" fill="#aeb3b4" stroke="none" stroke-width="1" />
<polygon points="85.57,325.59 86.51,325.87 87.44,326.27 88.37,326.81 89.31,327.48 89.31,327.48 90.31,327.00 91.31,326.52 92.31,326.03 93.31,325.55 93.31,325.55 92.37,324.90 91.44,324.40 90.50,324.02 89.56,323.76 89.56,323.76 88.56,324.22 87.57,324.67 86.57,325.13 85.57,325.59" fill="#aeb3b4" stroke="none" stroke-width="1" />
<polygon points="91.44,322.90 92.38,323.15 93.32,323.51 94.25,324.01 95.19,324.64 95.19,324.64 96.19,324.16 97.19,323.68 98.19,323.20 99.19,322.72 99.19,322.72 98.25,322.10 97.31,321.63 96.37,321.30 95.43,321.07 95.43,321.07 94.43,321.53 93.44,321.99 92.44,322.44 91.44,322.90" fill="#aeb3b4" stroke="none" stroke-width="1" />
<polygon points="97.31,320.21 98.25,320.42 99.19,320.75 100.13,321.21 101.07,321.81 101.07,321.81 102.07,321.33 103.07,320.84 104.07,320.36 105.07,319.88 105.07,319.88 104.13,319.30 103.19,318.87 102.24,318.57 101.30,318.39 101.30,318.39 100.30,318.84 99.30,319.30 98.31,319.76 97.31,320.21" fill="#aeb3b4" stroke="none" stroke-width="1" />
<polygon points="103.18,317.53 104.12,317.70 105.07,317.99 106.01,318.41 106.96,318.97 106.96,318.97 107.96,318.49 108.96,318.01 109.96,317.53 110.96,317.04 110.96,317.04 110.01,316.51 109.06,316.11 108.12,315.85 107.17,315.70 107.17,315.70 106.17,316.15 105.17,316.61 104.18,317.07 103.18,317.53" fill="#aeb3b4" stroke="none" stroke-width="1" />
<polygon points="109.05,314.84 109.99,314.97 110.94,315.23 111.89,315.61 112.84,316.14 112.84,316.14 113.84,315.65 114.84,315.17 115.84,314.69 116.84,314.21 116.84,314.21 115.89,313.71 114.94,313.35 113.99,313.12 113.04,313.01 113.04,313.01 112.04,313.47 111.04,313.92 110.04,314.38 109.05,314.84" fill="#aeb3b4" stroke="none" stroke-width="1" />
<polygon points="114.92,312.15 115.87,312.25 116.82,312.46 117.77,312.81 118.72,313.30 118.72,313.30 119.72,312.82 120.72,312.34 121.72,311.85 122.72,311.37 122.72,311.37 121.77,310.91 120.81,310.59 119.86,310.40 118.91,310.32 118.91,310.32 117.91,310.78 116.91,311.24 115.91,311.69 114.92,312.15" fill="#aeb3b4" stroke="none" stroke-width="1" />
<polygon points="120.79,309.46 121.74,309.53 122.69,309.70 123.65,310.01 124.60,310.46 124.60,310.46 125.60,309.98 126.60,309.50 127.60,309.02 128.60,308.54 128.60,308.54 127.65,308.11 126.69,307.83 125.73,307.67 124.78,307.63 124.78,307.63 123.78,308.09 122.78,308.55 121.78,309.01 120.79,309.46" fill="#aeb3b4" stroke="none" stroke-width="1" />
<polygon points="126.65,306.77 127.61,306.80 128.57,306.94 129.53,307.21 130.49,307.63 130.49,307.63 131.49,307.15 132.49,306.66 133.49,306.18 134.49,305.70 134.49,305.70 133.53,305.31 132.57,305.06 131.61,304.95 130.65,304.95 130.65,304.95 129.65,305.40 128.65,305.86 127.65,306.32 126.65,306.77" fill="#aeb3b4" stroke="none" stroke-width="1" />
<polygon points="79.13,334.77 80.06,335.91 80.99,337.16 81.92,338.51 82.85,339.93 82.85,339.93 83.85,339.41 84.85,338.89 85.86,338.37 86.86,337.86 86.86,337.86 85.93,336.46 85.00,335.14 84.07,333.91 83.14,332.80 83.14,332.80 82.14,333.30 81.14,333.79 80.14,334.28 79.13,334.77" fill="#cdd2d6" stroke="none" stroke-width="1" />
<polygon points="85.02,331.88 85.95,332.97 86.89,334.19 87.82,335.50 88.75,336.88 88.75,336.88 89.75,336.36 90.75,335.84 91.76,335.33 92.76,334.81 92.76,334.81 91.83,333.45 90.89,332.16 89.96,330.97 89.03,329.90 89.03,329.90 88.03,330.40 87.02,330.89 86.02,331.38 85.02,331.88" fill="#cdd2d6" stroke="none" stroke-width="1" />
<polygon points="90.91,328.98 91.85,330.03 92.78,331.21 93.71,332.49 94.65,333.83 94.65,333.83 95.65,333.31 96.66,332.80 97.66,332.28 98.66,331.76 98.66,331.76 97.73,330.44 96.79,329.19 95.85,328.04 94.91,327.00 94.91,327.00 93.91,327.50 92.91,327.99 91.91,328.48 90.91,328.98" fill="#cdd2d6" stroke="none" stroke-width="1" />
<polygon points="96.80,326.08 97.74,327.10 98.67,328.24 99.61,329.48 100.55,330.78 100.55,330.78 101.55,330.27 102.56,329.75 103.56,329.23 104.56,328.71 104.56,328.71 103.62,327.43 102.68,326.22 101.74,325.10 100.80,324.10 100.80,324.10 99.80,324.60 98.80,325.09 97.80,325.58 96.80,326.08" fill="#cdd2d6" stroke="none" stroke-width="1" />
<polygon points="102.69,323.18 103.63,324.16 104.57,325.26 105.51,326.47 106.45,327.74 106.45,327.74 107.45,327.22 108.46,326.70 109.46,326.18 110.46,325.66 110.46,325.66 109.52,324.42 108.58,323.24 107.63,322.16 106.69,321.20 106.69,321.20 105.69,321.70 104.69,322.19 103.69,322.68 102.69,323.18" fill="#cdd2d6" stroke="none" stroke-width="1" />
<polygon points="108.58,320.28 109.52,321.22 110.46,322.29 111.41,323.45 112.35,324.69 112.35,324.69 113.36,324.17 114.36,323.65 115.36,323.13 116.37,322.62 116.37,322.62 115.42,321.41 114.47,320.27 113.53,319.23 112.58,318.31 112.58,318.31 111.58,318.80 110.58,319.29 109.58,319.78 108.58,320.28" fill="#cdd2d6" stroke="none" stroke-width="1" />
<polygon points="114.46,317.38 115.41,318.29 116.36,319.32 117.31,320.44 118.25,321.64 118.25,321.64 119.26,321.12 120.26,320.60 121.26,320.09 122.27,319.57 122.27,319.57 121.32,318.40 120.37,317.29 119.42,316.29 118.47,315.41 118.47,315.41 117.47,315.90 116.47,316.39 115.46,316.88 114.46,317.38" fill="#cdd2d6" stroke="none" stroke-width="1" />
<polygon points="120.35,314.48 121.30,315.35 122.25,316.34 123.20,317.43 124.16,318.59 124.16,318.59 125.16,318.08 126.16,317.56 127.17,317.04 128.17,316.52 128.17,316.52 127.22,315.39 126.26,314.32 125.31,313.35 124.36,312.51 124.36,312.51 123.35,313.00 122.35,313.49 121.35,313.98 120.35,314.48" fill="#cdd2d6" stroke="none" stroke-width="1" />
<polygon points="126.24,311.58 127.19,312.41 128.15,313.37 129.10,314.42 130.06,315.55 130.06,315.55 131.06,315.03 132.06,314.51 133.07,313.99 134.07,313.47 134.07,313.47 133.11,312.37 132.16,311.35 131.20,310.42 130.24,309.61 130.24,309.61 129.24,310.10 128.24,310.59 127.24,311.09 126.24,311.58" fill="#cdd2d6" stroke="none" stroke-width="1" />
<polygon points="132.13,308.68 133.09,309.48 134.04,310.40 135.00,311.41 135.96,312.50 135.96,312.50 136.96,311.98 137.97,311.46 138.97,310.94 139.97,310.42 139.97,310.42 139.01,309.36 138.05,308.37 137.09,307.48 136.13,306.71 136.13,306.71 135.13,307.20 134.13,307.69 133.13,308.19 132.13,308.68" fill="#cdd2d6" stroke="none" stroke-width="1" />
<polygon points="84.44,342.44 85.36,343.89 86.29,345.30 87.22,346.63 88.15,347.85 88.15,347.85 89.15,347.30 90.16,346.75 91.17,346.19 92.17,345.64 92.17,345.64 91.24,344.44 90.31,343.13 89.38,341.75 88.45,340.32 88.45,340.32 87.45,340.85 86.45,341.38 85.44,341.91 84.44,342.44" fill="#cdd2d6" stroke="none" stroke-width="1" />
<polygon points="90.34,339.33 91.28,340.74 92.21,342.11 93.14,343.40 94.07,344.59 94.07,344.59 95.08,344.04 96.08,343.49 97.09,342.93 98.09,342.38 98.09,342.38 97.16,341.21 96.23,339.95 95.29,338.60 94.36,337.21 94.36,337.21 93.36,337.74 92.35,338.27 91.35,338.80 90.34,339.33" fill="#cdd2d6" stroke="none" stroke-width="1" />
<polygon points="96.25,336.22 97.19,337.60 98.12,338.93 99.05,340.18 99.99,341.33 99.99,341.33 101.00,340.78 102.00,340.23 103.01,339.67 104.01,339.12 104.01,339.12 103.08,337.99 102.14,336.76 101.20,335.45 100.27,334.10 100.27,334.10 99.26,334.63 98.26,335.16 97.26,335.69 96.25,336.22" fill="#cdd2d6" stroke="none" stroke-width="1" />
<polygon points="102.16,333.10 103.10,334.45 104.03,335.74 104.97,336.96 105.91,338.07 105.91,338.07 106.92,337.52 107.92,336.97 108.93,336.41 109.94,335.86 109.94,335.86 109.00,334.77 108.06,333.58 107.11,332.31 106.17,330.99 106.17,330.99 105.17,331.52 104.17,332.05 103.16,332.58 102.16,333.10" fill="#cdd2d6" stroke="none" stroke-width="1" />
<polygon points="108.07,329.99 109.01,331.30 109.95,332.56 110.89,333.74 111.83,334.81 111.83,334.81 112.84,334.26 113.84,333.71 114.85,333.15 115.86,332.60 115.86,332.60 114.91,331.55 113.97,330.39 113.03,329.16 112.08,327.88 112.08,327.88 111.08,328.41 110.07,328.93 109.07,329.46 108.07,329.99" fill="#cdd2d6" stroke="none" stroke-width="1" />
<polygon points="113.97,326.88 114.92,328.15 115.86,329.37 116.81,330.51 117.75,331.56 117.75,331.56 118.76,331.00 119.76,330.45 120.77,329.89 121.78,329.34 121.78,329.34 120.83,328.32 119.88,327.20 118.94,326.01 117.99,324.77 117.99,324.77 116.98,325.29 115.98,325.82 114.98,326.35 113.97,326.88" fill="#cdd2d6" stroke="none" stroke-width="1" />
<polygon points="119.88,323.77 120.83,325.00 121.77,326.18 122.72,327.29 123.67,328.30 123.67,328.30 124.68,327.74 125.68,327.19 126.69,326.63 127.70,326.08 127.70,326.08 126.75,325.10 125.80,324.02 124.85,322.86 123.90,321.65 123.90,321.65 122.89,322.18 121.89,322.71 120.88,323.24 119.88,323.77" fill="#cdd2d6" stroke="none" stroke-width="1" />
<polygon points="125.79,320.66 126.74,321.85 127.69,323.00 128.64,324.07 129.59,325.04 129.59,325.04 130.60,324.48 131.60,323.93 132.61,323.37 133.62,322.82 133.62,322.82 132.66,321.88 131.71,320.83 130.76,319.71 129.80,318.54 129.80,318.54 128.80,319.07 127.79,319.60 126.79,320.13 125.79,320.66" fill="#cdd2d6" stroke="none" stroke-width="1" />
<polygon points="131.69,317.55 132.65,318.70 133.60,319.81 134.56,320.85 135.51,321.78 135.51,321.78 136.52,321.22 137.52,320.67 138.53,320.11 139.54,319.56 139.54,319.56 138.58,318.65 137.62,317.65 136.67,316.56 135.71,315.43 135.71,315.43 134.71,315.96 133.70,316.49 132.70,317.02 131.69,317.55" fill="#cdd2d6" stroke="none" stroke-width="1" />
<polygon points="137.60,314.44 138.56,315.56 139.52,316.63 140.47,317.62 141.43,318.52 141.43,318.52 142.44,317.96 143.44,317.41 144.45,316.85 145.46,316.30 145.46,316.30 144.50,315.43 143.54,314.46 142.58,313.41 141.62,312.32 141.62,312.32 140.61,312.85 139.61,313.38 138.60,313.91 137.60,314.44" fill="#cdd2d6" stroke="none" stroke-width="1" />
<polygon points="89.74,349.66 90.67,350.52 91.59,351.24 92.52,351.81 93.45,352.26 93.45,352.26 94.46,351.67 95.47,351.08 96.48,350.49 97.49,349.90 97.49,349.90 96.56,349.48 95.63,348.93 94.70,348.24 93.77,347.40 93.77,347.40 92.76,347.97 91.75,348.53 90.75,349.10 89.74,349.66" fill="#bfc4c8" stroke="none" stroke-width="1" />
<polygon points="95.66,346.34 96.60,347.16 97.53,347.84 98.46,348.38 99.39,348.79 99.39,348.79 100.40,348.20 101.41,347.61 102.42,347.02 103.43,346.43 103.43,346.43 102.49,346.04 101.56,345.53 100.63,344.88 99.69,344.08 99.69,344.08 98.69,344.64 97.68,345.21 96.67,345.77 95.66,346.34" fill="#bfc4c8" stroke="none" stroke-width="1" />
<polygon points="101.59,343.01 102.53,343.80 103.46,344.44 104.39,344.94 105.33,345.32 105.33,345.32 106.34,344.73 107.35,344.14 108.36,343.55 109.37,342.95 109.37,342.95 108.43,342.61 107.49,342.13 106.56,341.52 105.62,340.75 105.62,340.75 104.61,341.32 103.61,341.88 102.60,342.45 101.59,343.01" fill="#bfc4c8" stroke="none" stroke-width="1" />
<polygon points="107.52,339.69 108.45,340.44 109.39,341.05 110.33,341.51 111.27,341.84 111.27,341.84 112.28,341.25 113.29,340.66 114.30,340.07 115.31,339.48 115.31,339.48 114.37,339.17 113.43,338.74 112.49,338.16 111.55,337.43 111.55,337.43 110.54,338.00 109.53,338.56 108.52,339.13 107.52,339.69" fill="#bfc4c8" stroke="none" stroke-width="1" />
<polygon points="113.44,336.37 114.38,337.08 115.33,337.65 116.27,338.07 117.21,338.37 117.21,338.37 118.22,337.78 119.23,337.19 120.24,336.60 121.25,336.01 121.25,336.01 120.30,335.74 119.36,335.34 118.42,334.80 117.47,334.11 117.47,334.11 116.47,334.67 115.46,335.24 114.45,335.80 113.44,336.37" fill="#bfc4c8" stroke="none" stroke-width="1" />
<polygon points="119.37,333.04 120.31,333.72 121.26,334.25 122.20,334.64 123.15,334.90 123.15,334.90 124.16,334.31 125.17,333.72 126.18,333.13 127.19,332.54 127.19,332.54 126.24,332.30 125.29,331.94 124.35,331.44 123.40,330.78 123.40,330.78 122.39,331.35 121.38,331.91 120.38,332.48 119.37,333.04" fill="#bfc4c8" stroke="none" stroke-width="1" />
<polygon points="125.30,329.72 126.24,330.36 127.19,330.85 128.14,331.21 129.09,331.43 129.09,331.43 130.10,330.84 131.11,330.25 132.12,329.66 133.13,329.07 133.13,329.07 132.18,328.87 131.23,328.54 130.28,328.07 129.33,327.46 129.33,327.46 128.32,328.03 127.31,328.59 126.30,329.16 125.30,329.72" fill="#bfc4c8" stroke="none" stroke-width="1" />
<polygon points="131.22,326.40 132.17,327.00 133.12,327.46 134.07,327.77 135.03,327.96 135.03,327.96 136.04,327.37 137.05,326.78 138.06,326.19 139.06,325.60 139.06,325.60 138.11,325.44 137.16,325.15 136.20,324.71 135.25,324.14 135.25,324.14 134.24,324.70 133.24,325.27 132.23,325.83 131.22,326.40" fill="#bfc4c8" stroke="none" stroke-width="1" />
<polygon points="137.15,323.07 138.10,323.64 139.06,324.06 140.01,324.34 140.97,324.49 140.97,324.49 141.98,323.90 142.98,323.31 143.99,322.72 145.00,322.12 145.00,322.12 144.05,322.00 143.09,321.75 142.13,321.35 141.18,320.81 141.18,320.81 140.17,321.38 139.16,321.94 138.16,322.51 137.15,323.07" fill="#bfc4c8" stroke="none" stroke-width="1" />
<polygon points="143.07,319.75 144.03,320.28 144.99,320.66 145.95,320.90 146.90,321.01 146.90,321.01 147.91,320.42 148.92,319.83 149.93,319.24 150.94,318.65 150.94,318.65 149.98,318.57 149.02,318.35 148.06,317.99 147.10,317.49 147.10,317.49 146.10,318.06 145.09,318.62 144.08,319.19 143.07,319.75" fill="#bfc4c8" stroke="none" stroke-width="1" />
<polygon points="95.04,352.78 95.97,352.99 96.90,353.16 97.82,353.33 98.75,353.53 98.75,353.53 99.76,352.91 100.78,352.28 101.79,351.65 102.80,351.03 102.80,351.03 101.87,350.85 100.94,350.71 100.01,350.56 99.08,350.38 99.08,350.38 98.07,350.98 97.06,351.58 96.05,352.18 95.04,352.78" fill="#aeb3b4" stroke="none" stroke-width="1" />
<polygon points="100.99,349.25 101.92,349.42 102.85,349.55 103.78,349.69 104.71,349.85 104.71,349.85 105.72,349.22 106.74,348.60 107.75,347.97 108.76,347.34 108.76,347.34 107.83,347.21 106.90,347.10 105.96,346.99 105.03,346.84 105.03,346.84 104.02,347.44 103.01,348.04 102.00,348.65 100.99,349.25" fill="#aeb3b4" stroke="none" stroke-width="1" />
<polygon points="106.93,345.71 107.87,345.84 108.80,345.94 109.73,346.04 110.67,346.17 110.67,346.17 111.68,345.54 112.69,344.91 113.71,344.29 114.72,343.66 114.72,343.66 113.78,343.56 112.85,343.49 111.91,343.41 110.97,343.31 110.97,343.31 109.96,343.91 108.95,344.51 107.94,345.11 106.93,345.71" fill="#aeb3b4" stroke="none" stroke-width="1" />
<polygon points="112.88,342.18 113.81,342.27 114.75,342.33 115.69,342.39 116.63,342.48 116.63,342.48 117.64,341.86 118.65,341.23 119.67,340.60 120.68,339.98 120.68,339.98 119.74,339.91 118.80,339.88 117.86,339.84 116.92,339.77 116.92,339.77 115.91,340.37 114.90,340.97 113.89,341.57 112.88,342.18" fill="#aeb3b4" stroke="none" stroke-width="1" />
<polygon points="118.82,338.64 119.76,338.70 120.70,338.72 121.64,338.75 122.59,338.80 122.59,338.80 123.60,338.17 124.61,337.55 125.62,336.92 126.64,336.29 126.64,336.29 125.69,336.27 124.75,336.27 123.81,336.27 122.86,336.24 122.86,336.24 121.85,336.84 120.84,337.44 119.83,338.04 118.82,338.64" fill="#aeb3b4" stroke="none" stroke-width="1" />
<polygon points="124.77,335.11 125.71,335.13 126.66,335.11 127.60,335.10 128.54,335.11 128.54,335.11 129.56,334.49 130.57,333.86 131.58,333.24 132.60,332.61 132.60,332.61 131.65,332.62 130.70,332.66 129.76,332.70 128.81,332.70 128.81,332.70 127.80,333.30 126.79,333.90 125.78,334.50 124.77,335.11" fill="#aeb3b4" stroke="none" stroke-width="1" />
<polygon points="130.71,331.57 131.66,331.55 132.61,331.50 133.55,331.45 134.50,331.43 134.50,331.43 135.52,330.80 136.53,330.18 137.54,329.55 138.55,328.93 138.55,328.93 137.60,328.97 136.65,329.05 135.70,329.13 134.75,329.17 134.75,329.17 133.74,329.77 132.73,330.37 131.72,330.97 130.71,331.57" fill="#aeb3b4" stroke="none" stroke-width="1" />
<polygon points="136.66,328.04 137.61,327.98 138.56,327.90 139.51,327.81 140.46,327.75 140.46,327.75 141.47,327.12 142.49,326.50 143.50,325.87 144.51,325.24 144.51,325.24 143.56,325.33 142.61,325.44 141.65,325.55 140.70,325.63 140.70,325.63 139.69,326.23 138.68,326.83 137.67,327.43 136.66,328.04" fill="#aeb3b4" stroke="none" stroke-width="1" />
<polygon points="142.60,324.50 143.56,324.41 144.51,324.29 145.47,324.16 146.42,324.06 146.42,324.06 147.43,323.44 148.45,322.81 149.46,322.19 150.47,321.56 150.47,321.56 149.51,321.68 148.56,321.83 147.60,321.98 146.64,322.10 146.64,322.10 145.63,322.70 144.62,323.30 143.61,323.90 142.60,324.50" fill="#aeb3b4" stroke="none" stroke-width="1" />
<polygon points="148.55,320.96 149.50,320.84 150.46,320.68 151.42,320.51 152.38,320.38 152.38,320.38 153.39,319.75 154.40,319.13 155.42,318.50 156.43,317.88 156.43,317.88 155.47,318.03 154.51,318.22 153.55,318.41 152.59,318.56 152.59,318.56 151.58,319.16 150.57,319.76 149.56,320.36 148.55,320.96" fill="#aeb3b4" stroke="none" stroke-width="1" />
<polygon points="100.34,354.04 101.27,354.47 102.20,355.02 103.13,355.72 104.05,356.56 104.05,356.56 105.07,355.90 106.09,355.24 107.10,354.58 108.12,353.92 108.12,353.92 107.19,353.10 106.26,352.43 105.33,351.89 104.40,351.49 104.40,351.49 103.38,352.13 102.37,352.76 101.36,353.40 100.34,354.04" fill="#bfc4c8" stroke="none" stroke-width="1" />
<polygon points="106.31,350.29 107.24,350.68 108.17,351.20 109.10,351.86 110.03,352.67 110.03,352.67 111.05,352.01 112.06,351.34 113.08,350.68 114.10,350.02 114.10,350.02 113.16,349.24 112.23,348.60 111.30,348.11 110.36,347.74 110.36,347.74 109.35,348.38 108.33,349.01 107.32,349.65 106.31,350.29" fill="#bfc4c8" stroke="none" stroke-width="1" />
<polygon points="112.27,346.54 113.21,346.90 114.14,347.38 115.07,348.00 116.01,348.77 116.01,348.77 117.03,348.11 118.04,347.45 119.06,346.79 120.07,346.12 120.07,346.12 119.14,345.38 118.20,344.78 117.26,344.33 116.33,343.99 116.33,343.99 115.31,344.63 114.30,345.27 113.28,345.90 112.27,346.54" fill="#bfc4c8" stroke="none" stroke-width="1" />
<polygon points="118.24,342.79 119.17,343.11 120.11,343.56 121.05,344.15 121.99,344.88 121.99,344.88 123.00,344.22 124.02,343.55 125.03,342.89 126.05,342.23 126.05,342.23 125.11,341.52 124.17,340.96 123.23,340.54 122.29,340.25 122.29,340.25 121.28,340.88 120.26,341.52 119.25,342.16 118.24,342.79" fill="#bfc4c8" stroke="none" stroke-width="1" />
<polygon points="124.20,339.05 125.14,339.33 126.08,339.74 127.02,340.29 127.96,340.98 127.96,340.98 128.98,340.32 130.00,339.66 131.01,339.00 132.03,338.33 132.03,338.33 131.09,337.66 130.14,337.14 129.20,336.76 128.25,336.50 128.25,336.50 127.24,337.14 126.23,337.77 125.21,338.41 124.20,339.05" fill="#bfc4c8" stroke="none" stroke-width="1" />
<polygon points="130.16,335.30 131.11,335.55 132.05,335.92 133.00,336.43 133.94,337.09 133.94,337.09 134.96,336.42 135.97,335.76 136.99,335.10 138.01,334.44 138.01,334.44 137.06,333.81 136.11,333.32 135.17,332.97 134.22,332.75 134.22,332.75 133.21,333.39 132.19,334.03 131.18,334.66 130.16,335.30" fill="#bfc4c8" stroke="none" stroke-width="1" />
<polygon points="136.13,331.55 137.08,331.76 138.02,332.10 138.97,332.57 139.92,333.19 139.92,333.19 140.93,332.53 141.95,331.87 142.97,331.20 143.98,330.54 143.98,330.54 143.03,329.95 142.08,329.50 141.13,329.19 140.18,329.01 140.18,329.01 139.17,329.64 138.16,330.28 137.14,330.92 136.13,331.55" fill="#bfc4c8" stroke="none" stroke-width="1" />
<polygon points="142.09,327.81 143.04,327.98 143.99,328.28 144.95,328.71 145.90,329.30 145.90,329.30 146.91,328.63 147.93,327.97 148.94,327.31 149.96,326.65 149.96,326.65 149.01,326.09 148.05,325.68 147.10,325.40 146.15,325.26 146.15,325.26 145.13,325.90 144.12,326.53 143.11,327.17 142.09,327.81" fill="#bfc4c8" stroke="none" stroke-width="1" />
<polygon points="148.06,324.06 149.01,324.19 149.96,324.45 150.92,324.85 151.87,325.40 151.87,325.40 152.89,324.74 153.91,324.08 154.92,323.41 155.94,322.75 155.94,322.75 154.98,322.23 154.02,321.86 153.07,321.62 152.11,321.51 152.11,321.51 151.10,322.15 150.08,322.78 149.07,323.42 148.06,324.06" fill="#bfc4c8" stroke="none" stroke-width="1" />
<polygon points="154.02,320.31 154.98,320.41 155.94,320.63 156.89,321.00 157.85,321.51 157.85,321.51 158.87,320.84 159.88,320.18 160.90,319.52 161.92,318.86 161.92,318.86 160.96,318.37 160.00,318.03 159.04,317.84 158.08,317.76 158.08,317.76 157.06,318.40 156.05,319.04 155.03,319.67 154.02,320.31" fill="#bfc4c8" stroke="none" stroke-width="1" />
<polygon points="105.64,358.34 106.57,359.55 107.50,360.87 108.43,362.27 109.36,363.72 109.36,363.72 110.38,363.02 111.39,362.32 112.41,361.62 113.43,360.92 113.43,360.92 112.50,359.50 111.57,358.13 110.64,356.84 109.71,355.65 109.71,355.65 108.70,356.32 107.68,356.99 106.66,357.67 105.64,358.34" fill="#cdd2d6" stroke="none" stroke-width="1" />
<polygon points="111.63,354.38 112.56,355.56 113.49,356.84 114.42,358.20 115.35,359.61 115.35,359.61 116.37,358.91 117.39,358.21 118.41,357.52 119.43,356.82 119.43,356.82 118.50,355.43 117.56,354.09 116.63,352.84 115.70,351.69 115.70,351.69 114.68,352.36 113.66,353.04 112.64,353.71 111.63,354.38" fill="#cdd2d6" stroke="none" stroke-width="1" />
<polygon points="117.61,350.42 118.55,351.56 119.48,352.80 120.41,354.13 121.35,355.50 121.35,355.50 122.37,354.80 123.39,354.11 124.41,353.41 125.43,352.71 125.43,352.71 124.49,351.36 123.55,350.06 122.62,348.84 121.68,347.73 121.68,347.73 120.66,348.40 119.65,349.08 118.63,349.75 117.61,350.42" fill="#cdd2d6" stroke="none" stroke-width="1" />
<polygon points="123.59,346.46 124.53,347.56 125.47,348.77 126.41,350.06 127.35,351.40 127.35,351.40 128.36,350.70 129.38,350.00 130.40,349.30 131.42,348.60 131.42,348.60 130.48,347.29 129.54,346.03 128.60,344.85 127.66,343.77 127.66,343.77 126.65,344.44 125.63,345.12 124.61,345.79 123.59,346.46" fill="#cdd2d6" stroke="none" stroke-width="1" />
<polygon points="129.58,342.50 130.52,343.57 131.46,344.74 132.40,345.99 133.34,347.29 133.34,347.29 134.36,346.59 135.38,345.89 136.40,345.19 137.42,344.49 137.42,344.49 136.48,343.22 135.53,341.99 134.59,340.85 133.65,339.81 133.65,339.81 132.63,340.49 131.61,341.16 130.59,341.83 129.58,342.50" fill="#cdd2d6" stroke="none" stroke-width="1" />
<polygon points="135.56,338.55 136.50,339.57 137.45,340.70 138.39,341.92 139.34,343.18 139.34,343.18 140.36,342.48 141.38,341.78 142.40,341.09 143.42,340.39 143.42,340.39 142.47,339.15 141.52,337.96 140.58,336.85 139.63,335.85 139.63,335.85 138.61,336.53 137.59,337.20 136.58,337.87 135.56,338.55" fill="#cdd2d6" stroke="none" stroke-width="1" />
<polygon points="141.54,334.59 142.49,335.58 143.44,336.67 144.39,337.85 145.33,339.07 145.33,339.07 146.35,338.37 147.37,337.68 148.39,336.98 149.41,336.28 149.41,336.28 148.46,335.08 147.51,333.93 146.56,332.86 145.61,331.89 145.61,331.89 144.60,332.57 143.58,333.24 142.56,333.91 141.54,334.59" fill="#cdd2d6" stroke="none" stroke-width="1" />
<polygon points="147.53,330.63 148.48,331.58 149.43,332.64 150.38,333.78 151.33,334.97 151.33,334.97 152.35,334.27 153.37,333.57 154.39,332.87 155.41,332.17 155.41,332.17 154.46,331.01 153.50,329.89 152.55,328.86 151.60,327.94 151.60,327.94 150.58,328.61 149.56,329.28 148.54,329.95 147.53,330.63" fill="#cdd2d6" stroke="none" stroke-width="1" />
<polygon points="153.51,326.67 154.46,327.58 155.42,328.60 156.37,329.71 157.33,330.86 157.33,330.86 158.35,330.16 159.37,329.46 160.39,328.76 161.41,328.07 161.41,328.07 160.45,326.94 159.49,325.86 158.54,324.87 157.58,323.98 157.58,323.98 156.56,324.65 155.54,325.32 154.53,326.00 153.51,326.67" fill="#cdd2d6" stroke="none" stroke-width="1" />
<polygon points="159.49,322.71 160.45,323.59 161.41,324.57 162.37,325.64 163.32,326.75 163.32,326.75 164.34,326.05 165.36,325.35 166.38,324.66 167.40,323.96 167.40,323.96 166.44,322.87 165.48,321.83 164.52,320.87 163.56,320.02 163.56,320.02 162.54,320.69 161.53,321.36 160.51,322.04 159.49,322.71" fill="#cdd2d6" stroke="none" stroke-width="1" />
<polygon points="110.95,366.23 111.87,367.66 112.80,369.02 113.73,370.28 114.66,371.43 114.66,371.43 115.68,370.70 116.70,369.96 117.73,369.23 118.75,368.49 118.75,368.49 117.82,367.37 116.89,366.13 115.96,364.80 115.03,363.39 115.03,363.39 114.01,364.10 112.99,364.81 111.97,365.52 110.95,366.23" fill="#cdd2d6" stroke="none" stroke-width="1" />
<polygon points="116.95,362.06 117.88,363.45 118.81,364.77 119.74,366.00 120.67,367.11 120.67,367.11 121.70,366.38 122.72,365.64 123.74,364.91 124.76,364.17 124.76,364.17 123.83,363.09 122.90,361.88 121.96,360.59 121.03,359.22 121.03,359.22 120.01,359.93 118.99,360.64 117.97,361.35 116.95,362.06" fill="#cdd2d6" stroke="none" stroke-width="1" />
<polygon points="122.95,357.89 123.89,359.24 124.82,360.53 125.75,361.72 126.69,362.79 126.69,362.79 127.71,362.06 128.73,361.32 129.76,360.59 130.78,359.86 130.78,359.86 129.84,358.81 128.91,357.64 127.97,356.38 127.03,355.05 127.03,355.05 126.01,355.76 124.99,356.47 123.97,357.18 122.95,357.89" fill="#cdd2d6" stroke="none" stroke-width="1" />
<polygon points="128.95,353.72 129.89,355.03 130.83,356.28 131.77,357.44 132.70,358.47 132.70,358.47 133.73,357.74 134.75,357.00 135.77,356.27 136.79,355.54 136.79,355.54 135.85,354.52 134.91,353.39 133.97,352.17 133.03,350.88 133.03,350.88 132.01,351.59 130.99,352.30 129.97,353.01 128.95,353.72" fill="#cdd2d6" stroke="none" stroke-width="1" />
<polygon points="134.96,349.55 135.90,350.82 136.84,352.04 137.78,353.15 138.72,354.15 138.72,354.15 139.74,353.42 140.77,352.69 141.79,351.95 142.81,351.22 142.81,351.22 141.87,350.24 140.92,349.15 139.98,347.96 139.04,346.71 139.04,346.71 138.02,347.42 137.00,348.13 135.98,348.84 134.96,349.55" fill="#cdd2d6" stroke="none" stroke-width="1" />
<polygon points="140.96,345.37 141.90,346.62 142.85,347.79 143.79,348.87 144.74,349.83 144.74,349.83 145.76,349.10 146.78,348.37 147.80,347.63 148.83,346.90 148.83,346.90 147.88,345.96 146.93,344.90 145.99,343.75 145.04,342.54 145.04,342.54 144.02,343.25 143.00,343.96 141.98,344.67 140.96,345.37" fill="#cdd2d6" stroke="none" stroke-width="1" />
<polygon points="146.96,341.20 147.91,342.41 148.86,343.55 149.80,344.59 150.75,345.52 150.75,345.52 151.77,344.78 152.80,344.05 153.82,343.31 154.84,342.58 154.84,342.58 153.89,341.68 152.94,340.66 151.99,339.55 151.04,338.37 151.04,338.37 150.02,339.08 149.00,339.79 147.98,340.49 146.96,341.20" fill="#cdd2d6" stroke="none" stroke-width="1" />
<polygon points="152.96,337.03 153.91,338.20 154.86,339.30 155.82,340.31 156.77,341.20 156.77,341.20 157.79,340.46 158.81,339.73 159.83,338.99 160.86,338.26 160.86,338.26 159.90,337.39 158.95,336.41 158.00,335.34 157.04,334.20 157.04,334.20 156.02,334.91 155.00,335.61 153.98,336.32 152.96,337.03" fill="#cdd2d6" stroke="none" stroke-width="1" />
<polygon points="158.96,332.86 159.92,333.99 160.87,335.06 161.83,336.02 162.78,336.88 162.78,336.88 163.80,336.14 164.83,335.41 165.85,334.67 166.87,333.94 166.87,333.94 165.92,333.11 164.96,332.17 164.00,331.13 163.05,330.03 163.05,330.03 162.03,330.73 161.00,331.44 159.98,332.15 158.96,332.86" fill="#cdd2d6" stroke="none" stroke-width="1" />
<polygon points="164.97,328.69 165.92,329.78 166.88,330.81 167.84,331.74 168.80,332.56 168.80,332.56 169.82,331.82 170.84,331.09 171.87,330.35 172.89,329.62 172.89,329.62 171.93,328.83 170.97,327.92 170.01,326.92 169.05,325.85 169.05,325.85 168.03,326.56 167.01,327.27 165.99,327.98 164.97,328.69" fill="#cdd2d6" stroke="none" stroke-width="1" />
<polygon points="116.25,373.08 117.18,373.85 118.10,374.48 119.03,374.97 119.96,375.34 119.96,375.34 120.99,374.57 122.01,373.80 123.04,373.03 124.06,372.26 124.06,372.26 123.13,371.91 122.20,371.45 121.27,370.85 120.34,370.10 120.34,370.10 119.32,370.85 118.30,371.59 117.27,372.34 116.25,373.08" fill="#aeb3b4" stroke="none" stroke-width="1" />
<polygon points="122.27,368.70 123.20,369.43 124.13,370.02 125.06,370.47 125.99,370.81 125.99,370.81 127.02,370.04 128.05,369.27 129.07,368.50 130.10,367.73 130.10,367.73 129.16,367.42 128.23,366.99 127.30,366.43 126.36,365.72 126.36,365.72 125.34,366.47 124.32,367.21 123.29,367.96 122.27,368.70" fill="#aeb3b4" stroke="none" stroke-width="1" />
<polygon points="128.29,364.32 129.23,365.01 130.16,365.56 131.09,365.98 132.03,366.28 132.03,366.28 133.05,365.51 134.08,364.74 135.11,363.97 136.13,363.20 136.13,363.20 135.20,362.92 134.26,362.53 133.32,362.01 132.39,361.34 132.39,361.34 131.36,362.08 130.34,362.83 129.31,363.57 128.29,364.32" fill="#aeb3b4" stroke="none" stroke-width="1" />
<polygon points="134.31,359.94 135.25,360.59 136.19,361.11 137.13,361.48 138.06,361.75 138.06,361.75 139.09,360.98 140.12,360.21 141.14,359.44 142.17,358.67 142.17,358.67 141.23,358.43 140.29,358.07 139.35,357.59 138.41,356.96 138.41,356.96 137.38,357.70 136.36,358.45 135.34,359.19 134.31,359.94" fill="#aeb3b4" stroke="none" stroke-width="1" />
<polygon points="140.33,355.55 141.27,356.17 142.22,356.65 143.16,356.99 144.10,357.22 144.10,357.22 145.12,356.44 146.15,355.67 147.18,354.90 148.20,354.13 148.20,354.13 147.26,353.93 146.31,353.62 145.37,353.17 144.43,352.57 144.43,352.57 143.40,353.32 142.38,354.06 141.36,354.81 140.33,355.55" fill="#aeb3b4" stroke="none" stroke-width="1" />
<polygon points="146.35,351.17 147.30,351.75 148.24,352.19 149.19,352.50 150.13,352.68 150.13,352.68 151.16,351.91 152.18,351.14 153.21,350.37 154.24,349.60 154.24,349.60 153.29,349.44 152.34,349.16 151.40,348.75 150.45,348.19 150.45,348.19 149.43,348.94 148.40,349.68 147.38,350.43 146.35,351.17" fill="#aeb3b4" stroke="none" stroke-width="1" />
<polygon points="152.38,346.79 153.32,347.33 154.27,347.73 155.22,348.00 156.17,348.15 156.17,348.15 157.19,347.38 158.22,346.61 159.24,345.84 160.27,345.07 160.27,345.07 159.32,344.95 158.37,344.70 157.42,344.33 156.47,343.81 156.47,343.81 155.45,344.55 154.42,345.30 153.40,346.04 152.38,346.79" fill="#aeb3b4" stroke="none" stroke-width="1" />
<polygon points="158.40,342.40 159.35,342.91 160.30,343.28 161.25,343.51 162.20,343.62 162.20,343.62 163.23,342.85 164.25,342.08 165.28,341.31 166.31,340.54 166.31,340.54 165.35,340.45 164.40,340.25 163.44,339.91 162.49,339.42 162.49,339.42 161.47,340.17 160.44,340.91 159.42,341.66 158.40,342.40" fill="#aeb3b4" stroke="none" stroke-width="1" />
<polygon points="164.42,338.02 165.37,338.49 166.33,338.82 167.28,339.01 168.24,339.09 168.24,339.09 169.26,338.32 170.29,337.55 171.31,336.78 172.34,336.01 172.34,336.01 171.38,335.96 170.43,335.79 169.47,335.49 168.51,335.04 168.51,335.04 167.49,335.79 166.47,336.53 165.44,337.28 164.42,338.02" fill="#aeb3b4" stroke="none" stroke-width="1" />
<polygon points="170.44,333.64 171.40,334.07 172.36,334.36 173.31,334.52 174.27,334.56 174.27,334.56 175.30,333.79 176.32,333.02 177.35,332.25 178.37,331.48 178.37,331.48 177.41,331.46 176.45,331.33 175.49,331.07 174.53,330.66 174.53,330.66 173.51,331.40 172.49,332.15 171.46,332.89 170.44,333.64" fill="#aeb3b4" stroke="none" stroke-width="1" />
<polygon points="121.55,375.77 122.48,375.96 123.41,376.12 124.33,376.31 125.26,376.55 125.26,376.55 126.29,375.74 127.32,374.93 128.35,374.13 129.38,373.32 129.38,373.32 128.45,373.11 127.52,372.95 126.59,372.81 125.66,372.65 125.66,372.65 124.63,373.43 123.60,374.21 122.58,374.99 121.55,375.77" fill="#aeb3b4" stroke="none" stroke-width="1" />
<polygon points="127.59,371.18 128.52,371.32 129.45,371.45 130.38,371.60 131.32,371.80 131.32,371.80 132.34,371.00 133.37,370.19 134.40,369.38 135.43,368.58 135.43,368.58 134.50,368.40 133.56,368.28 132.63,368.17 131.70,368.05 131.70,368.05 130.67,368.84 129.64,369.62 128.62,370.40 127.59,371.18" fill="#aeb3b4" stroke="none" stroke-width="1" />
<polygon points="133.63,366.58 134.57,366.69 135.50,366.78 136.43,366.90 137.37,367.06 137.37,367.06 138.40,366.25 139.43,365.45 140.46,364.64 141.49,363.83 141.49,363.83 140.55,363.70 139.61,363.61 138.67,363.54 137.74,363.46 137.74,363.46 136.71,364.24 135.68,365.02 134.66,365.80 133.63,366.58" fill="#aeb3b4" stroke="none" stroke-width="1" />
<polygon points="139.67,361.99 140.61,362.06 141.55,362.12 142.48,362.19 143.42,362.32 143.42,362.32 144.45,361.51 145.48,360.70 146.51,359.90 147.54,359.09 147.54,359.09 146.60,358.99 145.66,358.94 144.72,358.91 143.78,358.87 143.78,358.87 142.75,359.65 141.72,360.43 140.70,361.21 139.67,361.99" fill="#aeb3b4" stroke="none" stroke-width="1" />
<polygon points="145.71,357.40 146.65,357.43 147.59,357.45 148.53,357.48 149.48,357.57 149.48,357.57 150.50,356.77 151.53,355.96 152.56,355.15 153.59,354.35 153.59,354.35 152.65,354.28 151.71,354.27 150.76,354.28 149.82,354.27 149.82,354.27 148.79,355.05 147.76,355.83 146.74,356.61 145.71,357.40" fill="#aeb3b4" stroke="none" stroke-width="1" />
<polygon points="151.75,352.80 152.70,352.80 153.64,352.78 154.58,352.78 155.53,352.83 155.53,352.83 156.56,352.02 157.59,351.22 158.62,350.41 159.65,349.61 159.65,349.61 158.70,349.58 157.75,349.60 156.81,349.65 155.86,349.68 155.86,349.68 154.83,350.46 153.81,351.24 152.78,352.02 151.75,352.80" fill="#aeb3b4" stroke="none" stroke-width="1" />
<polygon points="157.79,348.21 158.74,348.16 159.69,348.11 160.64,348.07 161.58,348.09 161.58,348.09 162.61,347.28 163.64,346.47 164.67,345.67 165.70,344.86 165.70,344.86 164.75,344.87 163.80,344.93 162.85,345.01 161.90,345.08 161.90,345.08 160.87,345.86 159.85,346.64 158.82,347.42 157.79,348.21" fill="#aeb3b4" stroke="none" stroke-width="1" />
<polygon points="163.83,343.61 164.78,343.53 165.73,343.44 166.69,343.37 167.64,343.34 167.64,343.34 168.67,342.54 169.69,341.73 170.72,340.93 171.75,340.12 171.75,340.12 170.80,340.17 169.85,340.27 168.89,340.38 167.94,340.49 167.94,340.49 166.91,341.27 165.89,342.05 164.86,342.83 163.83,343.61" fill="#aeb3b4" stroke="none" stroke-width="1" />
<polygon points="169.87,339.02 170.83,338.90 171.78,338.77 172.74,338.66 173.69,338.60 173.69,338.60 174.72,337.80 175.75,336.99 176.78,336.18 177.81,335.38 177.81,335.38 176.85,335.46 175.89,335.60 174.94,335.75 173.98,335.89 173.98,335.89 172.95,336.67 171.93,337.45 170.90,338.23 169.87,339.02" fill="#aeb3b4" stroke="none" stroke-width="1" />
<polygon points="175.91,334.42 176.87,334.27 177.83,334.10 178.79,333.95 179.74,333.86 179.74,333.86 180.77,333.05 181.80,332.25 182.83,331.44 183.86,330.63 183.86,330.63 182.90,330.75 181.94,330.93 180.98,331.12 180.02,331.30 180.02,331.30 178.99,332.08 177.97,332.86 176.94,333.64 175.91,334.42" fill="#aeb3b4" stroke="none" stroke-width="1" />
<polygon points="155.70,349.40 164.00,345.60 169.50,348.60 161.00,352.60" fill="none" stroke="#f08a4a" stroke-width="0.8" />
<path d="M162.5,351 C168,354 169.5,362 167.5,369 C166.5,373 164.5,376 162.5,378.5" fill="none" stroke="#f5a06a" stroke-width="2"/>
<polygon points="159.50,382.50 160.20,376.20 165.50,379.60" fill="#f5a06a" stroke="none" stroke-width="1" />
<text x="87.90" y="376.60" font-size="8.6" font-weight="bold" text-anchor="start" fill="#111" >RNA</text>
<text x="88.20" y="399.50" font-size="8.4" font-weight="bold" text-anchor="start" fill="#111" >Ti<tspan font-size="5.2" dy="2.4">3</tspan><tspan dy="-2.4">C</tspan><tspan font-size="5.2" dy="2.4">2</tspan><tspan dy="-2.4">T</tspan><tspan font-size="5.2" dy="2.4">x</tspan><tspan dy="-2.4"> elecctrode</tspan></text>
<text x="88.80" y="422.00" font-size="8.4" font-weight="bold" text-anchor="start" fill="#111" >PET substrate</text>
<line x1="14.50" y1="441.50" x2="14.50" y2="449.00" stroke="#999" stroke-width="0.7" />
<line x1="215.01" y1="391.47" x2="277.30" y2="372.90" stroke="#c9c9c9" stroke-width="0.6" />
<line x1="277.30" y1="372.90" x2="351.05" y2="386.02" stroke="#c9c9c9" stroke-width="0.6" />
<line x1="214.52" y1="374.15" x2="277.30" y2="357.30" stroke="#c9c9c9" stroke-width="0.6" />
<line x1="277.30" y1="357.30" x2="351.59" y2="369.24" stroke="#c9c9c9" stroke-width="0.6" />
<line x1="214.03" y1="356.82" x2="277.30" y2="341.70" stroke="#c9c9c9" stroke-width="0.6" />
<line x1="277.30" y1="341.70" x2="352.14" y2="352.45" stroke="#c9c9c9" stroke-width="0.6" />
<line x1="213.54" y1="339.49" x2="277.30" y2="326.10" stroke="#c9c9c9" stroke-width="0.6" />
<line x1="277.30" y1="326.10" x2="352.68" y2="335.67" stroke="#c9c9c9" stroke-width="0.6" />
<line x1="213.05" y1="322.16" x2="277.30" y2="310.50" stroke="#c9c9c9" stroke-width="0.6" />
<line x1="277.30" y1="310.50" x2="353.23" y2="318.89" stroke="#c9c9c9" stroke-width="0.6" />
<line x1="246.40" y1="398.65" x2="245.05" y2="308.10" stroke="#c9c9c9" stroke-width="0.6" />
<line x1="291.94" y1="391.36" x2="292.54" y2="304.26" stroke="#c9c9c9" stroke-width="0.6" />
<line x1="306.58" y1="394.22" x2="307.78" y2="305.82" stroke="#c9c9c9" stroke-width="0.6" />
<line x1="321.22" y1="397.08" x2="323.02" y2="307.38" stroke="#c9c9c9" stroke-width="0.6" />
<line x1="335.86" y1="399.94" x2="338.26" y2="308.94" stroke="#c9c9c9" stroke-width="0.6" />
<line x1="212.80" y1="313.50" x2="277.30" y2="302.70" stroke="#c9c9c9" stroke-width="0.7" />
<line x1="277.30" y1="302.70" x2="353.50" y2="310.50" stroke="#c9c9c9" stroke-width="0.7" />
<line x1="277.30" y1="388.50" x2="277.30" y2="302.70" stroke="#c4c4c4" stroke-width="0.7" />
<line x1="350.50" y1="402.80" x2="353.50" y2="310.50" stroke="#c4c4c4" stroke-width="0.7" />
<line x1="277.30" y1="388.50" x2="350.50" y2="402.80" stroke="#c9c9c9" stroke-width="0.6" />
<line x1="277.30" y1="388.50" x2="215.50" y2="408.80" stroke="#c9c9c9" stroke-width="0.6" />
<line x1="235.25" y1="415.60" x2="295.60" y2="392.07" stroke="#c9c9c9" stroke-width="0.5" />
<line x1="255.00" y1="422.40" x2="313.90" y2="395.65" stroke="#c9c9c9" stroke-width="0.5" />
<line x1="274.75" y1="429.20" x2="332.20" y2="399.23" stroke="#c9c9c9" stroke-width="0.5" />
<line x1="235.89" y1="402.10" x2="312.98" y2="425.04" stroke="#c9c9c9" stroke-width="0.5" />
<line x1="256.91" y1="395.20" x2="332.02" y2="413.76" stroke="#c9c9c9" stroke-width="0.5" />
<polygon points="289.50,372.50 292.40,371.00 292.40,394.50 289.50,396.00" fill="#a4a4a4" stroke="#8e8e8e" stroke-width="0.35" />
<polygon points="283.50,372.50 289.50,372.50 292.40,371.00 286.40,371.00" fill="#dadada" stroke="#8e8e8e" stroke-width="0.35" />
<polygon points="283.50,372.50 289.50,372.50 289.50,396.00 283.50,396.00" fill="#c2c2c2" stroke="#8e8e8e" stroke-width="0.35" />
<polygon points="301.50,382.20 305.50,380.70 305.50,393.00 301.50,394.50" fill="#a4a4a4" stroke="#8e8e8e" stroke-width="0.35" />
<polygon points="294.60,382.20 301.50,382.20 305.50,380.70 298.60,380.70" fill="#dadada" stroke="#8e8e8e" stroke-width="0.35" />
<polygon points="294.60,382.20 301.50,382.20 301.50,394.50 294.60,394.50" fill="#c2c2c2" stroke="#8e8e8e" stroke-width="0.35" />
<polygon points="317.50,393.20 320.80,391.70 320.80,399.10 317.50,400.60" fill="#a4a4a4" stroke="#8e8e8e" stroke-width="0.35" />
<polygon points="311.00,393.20 317.50,393.20 320.80,391.70 314.30,391.70" fill="#dadada" stroke="#8e8e8e" stroke-width="0.35" />
<polygon points="311.00,393.20 317.50,393.20 317.50,400.60 311.00,400.60" fill="#c2c2c2" stroke="#8e8e8e" stroke-width="0.35" />
<polygon points="331.50,401.40 334.00,400.20 334.00,402.60 331.50,403.80" fill="#a4a4a4" stroke="#8e8e8e" stroke-width="0.35" />
<polygon points="326.30,401.40 331.50,401.40 334.00,400.20 328.80,400.20" fill="#dadada" stroke="#8e8e8e" stroke-width="0.35" />
<polygon points="326.30,401.40 331.50,401.40 331.50,403.80 326.30,403.80" fill="#c2c2c2" stroke="#8e8e8e" stroke-width="0.35" />
<polygon points="264.10,340.30 268.50,338.10 268.50,399.30 264.10,401.50" fill="#d98fc2" stroke="#c07aa8" stroke-width="0.35" />
<polygon points="256.00,340.30 264.10,340.30 268.50,338.10 260.40,338.10" fill="#f8c9e8" stroke="#c07aa8" stroke-width="0.35" />
<polygon points="256.00,340.30 264.10,340.30 264.10,401.50 256.00,401.50" fill="#f2a9da" stroke="#c07aa8" stroke-width="0.35" />
<polygon points="279.40,317.30 283.70,315.10 283.70,404.10 279.40,406.30" fill="#d98fc2" stroke="#c07aa8" stroke-width="0.35" />
<polygon points="270.60,317.30 279.40,317.30 283.70,315.10 274.90,315.10" fill="#f8c9e8" stroke="#c07aa8" stroke-width="0.35" />
<polygon points="270.60,317.30 279.40,317.30 279.40,406.30 270.60,406.30" fill="#f2a9da" stroke="#c07aa8" stroke-width="0.35" />
<polygon points="294.60,389.30 299.00,387.10 299.00,409.10 294.60,411.30" fill="#d98fc2" stroke="#c07aa8" stroke-width="0.35" />
<polygon points="285.30,389.30 294.60,389.30 299.00,387.10 289.70,387.10" fill="#f8c9e8" stroke="#c07aa8" stroke-width="0.35" />
<polygon points="285.30,389.30 294.60,389.30 294.60,411.30 285.30,411.30" fill="#f2a9da" stroke="#c07aa8" stroke-width="0.35" />
<polygon points="309.90,394.60 315.40,392.40 315.40,413.40 309.90,415.60" fill="#d98fc2" stroke="#c07aa8" stroke-width="0.35" />
<polygon points="301.20,394.60 309.90,394.60 315.40,392.40 306.70,392.40" fill="#f8c9e8" stroke="#c07aa8" stroke-width="0.35" />
<polygon points="301.20,394.60 309.90,394.60 309.90,415.60 301.20,415.60" fill="#f2a9da" stroke="#c07aa8" stroke-width="0.35" />
<polygon points="237.70,412.45 243.20,409.20 243.20,405.40 237.70,408.65" fill="#5f9acb" stroke="#4f86b8" stroke-width="0.35" />
<polygon points="228.70,409.30 237.70,412.45 237.70,408.65 228.70,405.50" fill="#78b0dc" stroke="#4f86b8" stroke-width="0.35" />
<polygon points="228.70,405.50 237.70,408.65 243.20,405.40 234.20,402.25" fill="#9ccaea" stroke="#4f86b8" stroke-width="0.35" />
<polygon points="252.50,417.45 257.50,414.50 257.50,412.30 252.50,415.25" fill="#5f9acb" stroke="#4f86b8" stroke-width="0.35" />
<polygon points="243.50,414.30 252.50,417.45 252.50,415.25 243.50,412.10" fill="#78b0dc" stroke="#4f86b8" stroke-width="0.35" />
<polygon points="243.50,412.10 252.50,415.25 257.50,412.30 248.50,409.15" fill="#9ccaea" stroke="#4f86b8" stroke-width="0.35" />
<polygon points="267.50,424.38 271.70,421.90 271.70,420.90 267.50,423.38" fill="#5f9acb" stroke="#4f86b8" stroke-width="0.35" />
<polygon points="259.00,421.40 267.50,424.38 267.50,423.38 259.00,420.40" fill="#78b0dc" stroke="#4f86b8" stroke-width="0.35" />
<polygon points="259.00,420.40 267.50,423.38 271.70,420.90 263.20,417.92" fill="#9ccaea" stroke="#4f86b8" stroke-width="0.35" />
<polygon points="284.70,430.18 289.30,427.46 289.30,426.76 284.70,429.48" fill="#5f9acb" stroke="#4f86b8" stroke-width="0.35" />
<polygon points="276.20,427.20 284.70,430.18 284.70,429.48 276.20,426.50" fill="#78b0dc" stroke="#4f86b8" stroke-width="0.35" />
<polygon points="276.20,426.50 284.70,429.48 289.30,426.76 280.80,423.79" fill="#9ccaea" stroke="#4f86b8" stroke-width="0.35" />
<line x1="215.50" y1="408.80" x2="212.80" y2="313.50" stroke="#222" stroke-width="1.1" />
<line x1="215.50" y1="408.80" x2="294.50" y2="436.00" stroke="#222" stroke-width="1.1" />
<line x1="294.50" y1="436.00" x2="350.50" y2="402.80" stroke="#222" stroke-width="1.1" />
<text x="210.50" y="413.90" font-size="6.5" font-weight="bold" text-anchor="end" fill="#222" >0</text>
<text x="210.50" y="396.32" font-size="6.5" font-weight="bold" text-anchor="end" fill="#222" >0.2</text>
<text x="210.50" y="378.74" font-size="6.5" font-weight="bold" text-anchor="end" fill="#222" >0.4</text>
<text x="210.50" y="361.16" font-size="6.5" font-weight="bold" text-anchor="end" fill="#222" >0.6</text>
<text x="210.50" y="343.58" font-size="6.5" font-weight="bold" text-anchor="end" fill="#222" >0.8</text>
<text x="210.50" y="326.00" font-size="6.5" font-weight="bold" text-anchor="end" fill="#222" >1.0</text>
<text x="0.00" y="0.00" font-size="7.6" font-weight="bold" text-anchor="middle" fill="#000" transform="translate(200.2,366.0) rotate(-90)">Photocurrent (pA)</text>
<text x="224.20" y="421.10" font-size="6.5" font-weight="bold" text-anchor="middle" fill="#222" >915</text>
<text x="238.60" y="425.80" font-size="6.5" font-weight="bold" text-anchor="middle" fill="#222" >1064</text>
<text x="253.60" y="431.60" font-size="6.5" font-weight="bold" text-anchor="middle" fill="#222" >1122</text>
<text x="270.00" y="437.40" font-size="6.5" font-weight="bold" text-anchor="middle" fill="#222" >1342</text>
<text x="304.30" y="439.10" font-size="6.5" font-weight="bold" text-anchor="middle" fill="#222" >5</text>
<text x="332.10" y="423.30" font-size="6.5" font-weight="bold" text-anchor="middle" fill="#222" >7.5</text>
<text x="351.20" y="411.70" font-size="6.5" font-weight="bold" text-anchor="middle" fill="#222" >10</text>
<text x="0.00" y="0.00" font-size="7.6" font-weight="bold" text-anchor="middle" fill="#000" font-style="italic" transform="translate(243.3,438.4) rotate(19.5)">Wavelength (nm)</text>
<text x="0.00" y="0.00" font-size="7.55" font-weight="bold" text-anchor="middle" fill="#000" transform="translate(337.0,430.6) rotate(-31.5)">Concentration (mg/ml)</text>
</svg></body></html>
